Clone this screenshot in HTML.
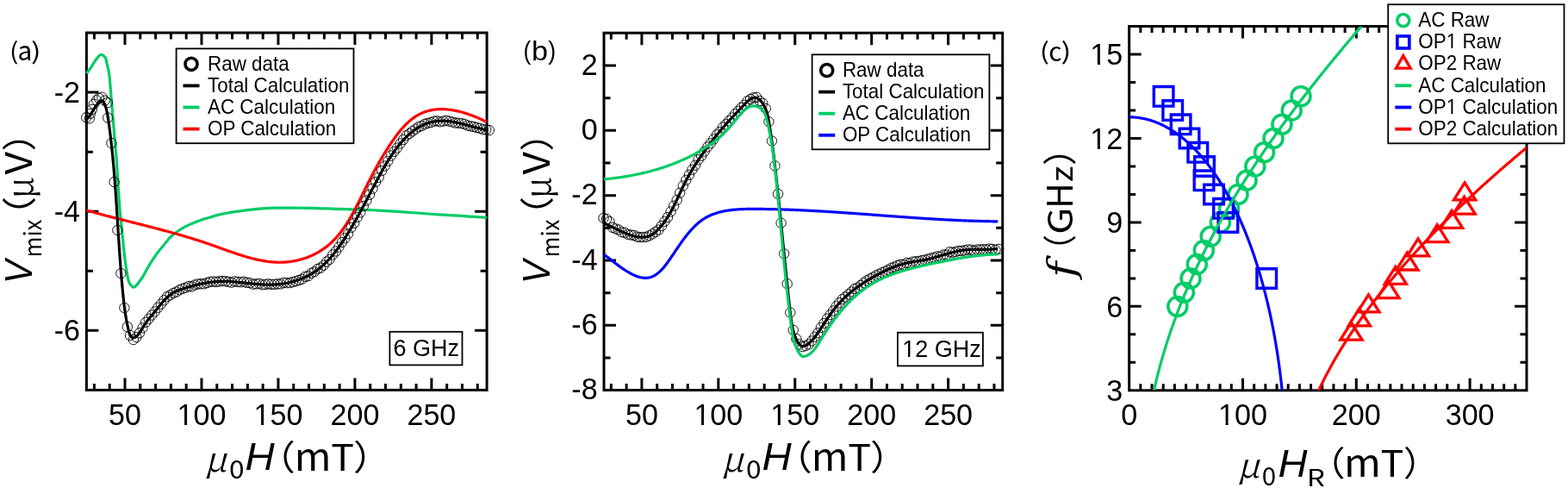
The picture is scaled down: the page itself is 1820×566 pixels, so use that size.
<!DOCTYPE html>
<html><head><meta charset="utf-8"><title>Figure</title>
<style>html,body{margin:0;padding:0;background:#fff;width:1820px;height:566px;overflow:hidden}svg{display:block}</style>
</head><body>
<svg width="1820" height="566" viewBox="0 0 1820 566">
<rect width="1820" height="566" fill="#fff"/>
<rect x="100.40" y="38.00" width="464.70" height="414.40" fill="none" stroke="#000" stroke-width="3"/>
<path d="M109.41,452.40V444.90M109.41,38.00V45.50M127.20,452.40V444.90M127.20,38.00V45.50M145.00,452.40V438.40M145.00,38.00V52.00M162.80,452.40V444.90M162.80,38.00V45.50M180.59,452.40V444.90M180.59,38.00V45.50M198.38,452.40V444.90M198.38,38.00V45.50M216.18,452.40V444.90M216.18,38.00V45.50M233.98,452.40V438.40M233.98,38.00V52.00M251.77,452.40V444.90M251.77,38.00V45.50M269.56,452.40V444.90M269.56,38.00V45.50M287.36,452.40V444.90M287.36,38.00V45.50M305.15,452.40V444.90M305.15,38.00V45.50M322.95,452.40V438.40M322.95,38.00V52.00M340.75,452.40V444.90M340.75,38.00V45.50M358.54,452.40V444.90M358.54,38.00V45.50M376.34,452.40V444.90M376.34,38.00V45.50M394.13,452.40V444.90M394.13,38.00V45.50M411.93,452.40V438.40M411.93,38.00V52.00M429.72,452.40V444.90M429.72,38.00V45.50M447.51,452.40V444.90M447.51,38.00V45.50M465.31,452.40V444.90M465.31,38.00V45.50M483.11,452.40V444.90M483.11,38.00V45.50M500.90,452.40V438.40M500.90,38.00V52.00M518.69,452.40V444.90M518.69,38.00V45.50M536.49,452.40V444.90M536.49,38.00V45.50M554.29,452.40V444.90M554.29,38.00V45.50M100.40,383.35H114.40M565.10,383.35H551.10M100.40,314.28H107.90M565.10,314.28H557.60M100.40,245.21H114.40M565.10,245.21H551.10M100.40,176.14H107.90M565.10,176.14H557.60M100.40,107.07H114.40M565.10,107.07H551.10" stroke="#000" stroke-width="3" fill="none"/>
<rect x="701.00" y="38.20" width="462.70" height="414.30" fill="none" stroke="#000" stroke-width="3"/>
<path d="M709.33,452.50V445.00M709.33,38.20V45.70M727.12,452.50V445.00M727.12,38.20V45.70M744.90,452.50V438.50M744.90,38.20V52.20M762.68,452.50V445.00M762.68,38.20V45.70M780.47,452.50V445.00M780.47,38.20V45.70M798.25,452.50V445.00M798.25,38.20V45.70M816.04,452.50V445.00M816.04,38.20V45.70M833.82,452.50V438.50M833.82,38.20V52.20M851.61,452.50V445.00M851.61,38.20V45.70M869.39,452.50V445.00M869.39,38.20V45.70M887.18,452.50V445.00M887.18,38.20V45.70M904.96,452.50V445.00M904.96,38.20V45.70M922.75,452.50V438.50M922.75,38.20V52.20M940.53,452.50V445.00M940.53,38.20V45.70M958.32,452.50V445.00M958.32,38.20V45.70M976.11,452.50V445.00M976.11,38.20V45.70M993.89,452.50V445.00M993.89,38.20V45.70M1011.67,452.50V438.50M1011.67,38.20V52.20M1029.46,452.50V445.00M1029.46,38.20V45.70M1047.24,452.50V445.00M1047.24,38.20V45.70M1065.03,452.50V445.00M1065.03,38.20V45.70M1082.82,452.50V445.00M1082.82,38.20V45.70M1100.60,452.50V438.50M1100.60,38.20V52.20M1118.38,452.50V445.00M1118.38,38.20V45.70M1136.17,452.50V445.00M1136.17,38.20V45.70M1153.95,452.50V445.00M1153.95,38.20V45.70M701.00,414.99H708.50M1163.70,414.99H1156.20M701.00,377.33H715.00M1163.70,377.33H1149.70M701.00,339.67H708.50M1163.70,339.67H1156.20M701.00,302.01H715.00M1163.70,302.01H1149.70M701.00,264.35H708.50M1163.70,264.35H1156.20M701.00,226.69H715.00M1163.70,226.69H1149.70M701.00,189.03H708.50M1163.70,189.03H1156.20M701.00,151.37H715.00M1163.70,151.37H1149.70M701.00,113.71H708.50M1163.70,113.71H1156.20M701.00,76.05H715.00M1163.70,76.05H1149.70" stroke="#000" stroke-width="3" fill="none"/>
<rect x="1310.65" y="30.50" width="461.35" height="422.30" fill="none" stroke="#000" stroke-width="3"/>
<path d="M1323.83,452.80V445.30M1323.83,30.50V38.00M1337.01,452.80V445.30M1337.01,30.50V38.00M1350.20,452.80V445.30M1350.20,30.50V38.00M1363.38,452.80V445.30M1363.38,30.50V38.00M1376.56,452.80V445.30M1376.56,30.50V38.00M1389.74,452.80V445.30M1389.74,30.50V38.00M1402.92,452.80V445.30M1402.92,30.50V38.00M1416.11,452.80V445.30M1416.11,30.50V38.00M1429.29,452.80V445.30M1429.29,30.50V38.00M1442.47,452.80V438.80M1442.47,30.50V44.50M1455.65,452.80V445.30M1455.65,30.50V38.00M1468.83,452.80V445.30M1468.83,30.50V38.00M1482.02,452.80V445.30M1482.02,30.50V38.00M1495.20,452.80V445.30M1495.20,30.50V38.00M1508.38,452.80V445.30M1508.38,30.50V38.00M1521.56,452.80V445.30M1521.56,30.50V38.00M1534.74,452.80V445.30M1534.74,30.50V38.00M1547.93,452.80V445.30M1547.93,30.50V38.00M1561.11,452.80V445.30M1561.11,30.50V38.00M1574.29,452.80V438.80M1574.29,30.50V44.50M1587.47,452.80V445.30M1587.47,30.50V38.00M1600.65,452.80V445.30M1600.65,30.50V38.00M1613.84,452.80V445.30M1613.84,30.50V38.00M1627.02,452.80V445.30M1627.02,30.50V38.00M1640.20,452.80V445.30M1640.20,30.50V38.00M1653.38,452.80V445.30M1653.38,30.50V38.00M1666.56,452.80V445.30M1666.56,30.50V38.00M1679.75,452.80V445.30M1679.75,30.50V38.00M1692.93,452.80V445.30M1692.93,30.50V38.00M1706.11,452.80V438.80M1706.11,30.50V44.50M1719.29,452.80V445.30M1719.29,30.50V38.00M1732.47,452.80V445.30M1732.47,30.50V38.00M1745.66,452.80V445.30M1745.66,30.50V38.00M1758.84,452.80V445.30M1758.84,30.50V38.00M1310.65,420.32H1318.15M1772.00,420.32H1764.50M1310.65,387.84H1318.15M1772.00,387.84H1764.50M1310.65,355.36H1324.65M1772.00,355.36H1758.00M1310.65,322.88H1318.15M1772.00,322.88H1764.50M1310.65,290.40H1318.15M1772.00,290.40H1764.50M1310.65,257.92H1324.65M1772.00,257.92H1758.00M1310.65,225.44H1318.15M1772.00,225.44H1764.50M1310.65,192.96H1318.15M1772.00,192.96H1764.50M1310.65,160.48H1324.65M1772.00,160.48H1758.00M1310.65,128.00H1318.15M1772.00,128.00H1764.50M1310.65,95.52H1318.15M1772.00,95.52H1764.50M1310.65,63.04H1324.65M1772.00,63.04H1758.00" stroke="#000" stroke-width="3" fill="none"/>
<g transform="translate(145.00,492.50) scale(0.960,1)"><text font-family='"Liberation Sans", sans-serif' font-size="35.50" text-anchor="middle">50</text></g>
<g transform="translate(744.90,492.50) scale(0.960,1)"><text font-family='"Liberation Sans", sans-serif' font-size="35.50" text-anchor="middle">50</text></g>
<g transform="translate(233.98,492.50) scale(0.960,1)"><text font-family='"Liberation Sans", sans-serif' font-size="35.50" text-anchor="middle" clip-path="url(#fc0)">100</text></g>
<g transform="translate(833.82,492.50) scale(0.960,1)"><text font-family='"Liberation Sans", sans-serif' font-size="35.50" text-anchor="middle" clip-path="url(#fc0)">100</text></g>
<g transform="translate(322.95,492.50) scale(0.960,1)"><text font-family='"Liberation Sans", sans-serif' font-size="35.50" text-anchor="middle" clip-path="url(#fc1)">150</text></g>
<g transform="translate(922.75,492.50) scale(0.960,1)"><text font-family='"Liberation Sans", sans-serif' font-size="35.50" text-anchor="middle" clip-path="url(#fc1)">150</text></g>
<g transform="translate(411.93,492.50) scale(0.960,1)"><text font-family='"Liberation Sans", sans-serif' font-size="35.50" text-anchor="middle">200</text></g>
<g transform="translate(1011.67,492.50) scale(0.960,1)"><text font-family='"Liberation Sans", sans-serif' font-size="35.50" text-anchor="middle">200</text></g>
<g transform="translate(500.90,492.50) scale(0.960,1)"><text font-family='"Liberation Sans", sans-serif' font-size="35.50" text-anchor="middle">250</text></g>
<g transform="translate(1100.60,492.50) scale(0.960,1)"><text font-family='"Liberation Sans", sans-serif' font-size="35.50" text-anchor="middle">250</text></g>
<g transform="translate(1310.65,492.50) scale(0.960,1)"><text font-family='"Liberation Sans", sans-serif' font-size="35.50" text-anchor="middle">0</text></g>
<g transform="translate(1442.47,492.50) scale(0.960,1)"><text font-family='"Liberation Sans", sans-serif' font-size="35.50" text-anchor="middle" clip-path="url(#fc0)">100</text></g>
<g transform="translate(1574.29,492.50) scale(0.960,1)"><text font-family='"Liberation Sans", sans-serif' font-size="35.50" text-anchor="middle">200</text></g>
<g transform="translate(1706.11,492.50) scale(0.960,1)"><text font-family='"Liberation Sans", sans-serif' font-size="35.50" text-anchor="middle">300</text></g>
<g transform="translate(93.00,118.57) scale(0.960,1)"><text font-family='"Liberation Sans", sans-serif' font-size="35.50" text-anchor="end">-2</text></g>
<g transform="translate(93.00,256.71) scale(0.960,1)"><text font-family='"Liberation Sans", sans-serif' font-size="35.50" text-anchor="end">-4</text></g>
<g transform="translate(93.00,394.85) scale(0.960,1)"><text font-family='"Liberation Sans", sans-serif' font-size="35.50" text-anchor="end">-6</text></g>
<g transform="translate(693.60,86.55) scale(0.960,1)"><text font-family='"Liberation Sans", sans-serif' font-size="35.50" text-anchor="end">2</text></g>
<g transform="translate(693.60,161.87) scale(0.960,1)"><text font-family='"Liberation Sans", sans-serif' font-size="35.50" text-anchor="end">0</text></g>
<g transform="translate(693.60,237.19) scale(0.960,1)"><text font-family='"Liberation Sans", sans-serif' font-size="35.50" text-anchor="end">-2</text></g>
<g transform="translate(693.60,312.51) scale(0.960,1)"><text font-family='"Liberation Sans", sans-serif' font-size="35.50" text-anchor="end">-4</text></g>
<g transform="translate(693.60,387.83) scale(0.960,1)"><text font-family='"Liberation Sans", sans-serif' font-size="35.50" text-anchor="end">-6</text></g>
<g transform="translate(693.60,463.15) scale(0.960,1)"><text font-family='"Liberation Sans", sans-serif' font-size="35.50" text-anchor="end">-8</text></g>
<g transform="translate(1303.25,465.10) scale(0.960,1)"><text font-family='"Liberation Sans", sans-serif' font-size="35.50" text-anchor="end">3</text></g>
<g transform="translate(1303.25,367.66) scale(0.960,1)"><text font-family='"Liberation Sans", sans-serif' font-size="35.50" text-anchor="end">6</text></g>
<g transform="translate(1303.25,270.22) scale(0.960,1)"><text font-family='"Liberation Sans", sans-serif' font-size="35.50" text-anchor="end">9</text></g>
<g transform="translate(1303.25,172.78) scale(0.960,1)"><text font-family='"Liberation Sans", sans-serif' font-size="35.50" text-anchor="end" clip-path="url(#fc2)">12</text></g>
<g transform="translate(1303.25,75.34) scale(0.960,1)"><text font-family='"Liberation Sans", sans-serif' font-size="35.50" text-anchor="end" clip-path="url(#fc3)">15</text></g>
<text transform="translate(11.03,69.19) scale(1.1287,1)" font-family='"Noto Sans CJK JP", sans-serif' font-size="27.23">(</text>
<text transform="translate(20.51,70.33) scale(0.9463,1)" font-family='"Noto Sans CJK JP", sans-serif' font-size="31.58">a</text>
<text transform="translate(36.05,69.22) scale(1.2734,1)" font-family='"Noto Sans CJK JP", sans-serif' font-size="27.09">)</text>
<text transform="translate(607.62,68.55) scale(0.9014,1)" font-family='"Liberation Sans", sans-serif' font-size="29.30">(</text>
<text transform="translate(617.08,70.48) scale(1.0704,1)" font-family='"Liberation Sans", sans-serif' font-size="31.97">b</text>
<text transform="translate(636.13,68.55) scale(0.9187,1)" font-family='"Liberation Sans", sans-serif' font-size="29.30">)</text>
<text transform="translate(1206.81,69.37) scale(1.2139,1)" font-family='"Noto Sans CJK JP", sans-serif' font-size="27.33">(</text>
<text transform="translate(1217.22,70.54) scale(0.9731,1)" font-family='"Noto Sans CJK JP", sans-serif' font-size="30.35">c</text>
<text transform="translate(1231.40,69.40) scale(1.3055,1)" font-family='"Noto Sans CJK JP", sans-serif' font-size="27.19">)</text>
<text transform="translate(237.47,546.82) scale(1.0065,1)" font-family='"Noto Serif CJK JP", serif' font-style="italic" font-size="40.41">μ</text>
<text transform="translate(266.12,555.36) scale(1.0893,1)" font-family='"Noto Sans CJK JP", sans-serif' font-size="29.05">0</text>
<text transform="translate(284.38,545.10) scale(1.0780,1)" font-family='"Liberation Sans", sans-serif' font-style="italic" font-size="43.91">H</text>
<text transform="translate(298.97,544.89) scale(1.0952,1)" font-family='"Noto Sans CJK JP", sans-serif' font-size="40.11">（</text>
<text transform="translate(341.85,545.60) scale(1.0283,1)" font-family='"Noto Sans CJK JP", sans-serif' font-size="44.86">m</text>
<text transform="translate(384.36,545.60) scale(1.0694,1)" font-family='"Noto Sans CJK JP", sans-serif' font-size="41.90">T</text>
<text transform="translate(410.02,544.89) scale(1.0854,1)" font-family='"Noto Sans CJK JP", sans-serif' font-size="40.11">）</text>
<text transform="translate(837.47,546.82) scale(1.0065,1)" font-family='"Noto Serif CJK JP", serif' font-style="italic" font-size="40.41">μ</text>
<text transform="translate(866.12,555.36) scale(1.0893,1)" font-family='"Noto Sans CJK JP", sans-serif' font-size="29.05">0</text>
<text transform="translate(884.38,545.10) scale(1.0780,1)" font-family='"Liberation Sans", sans-serif' font-style="italic" font-size="43.91">H</text>
<text transform="translate(898.97,544.89) scale(1.0952,1)" font-family='"Noto Sans CJK JP", sans-serif' font-size="40.11">（</text>
<text transform="translate(941.85,545.60) scale(1.0283,1)" font-family='"Noto Sans CJK JP", sans-serif' font-size="44.86">m</text>
<text transform="translate(984.36,545.60) scale(1.0694,1)" font-family='"Noto Sans CJK JP", sans-serif' font-size="41.90">T</text>
<text transform="translate(1010.02,544.89) scale(1.0854,1)" font-family='"Noto Sans CJK JP", sans-serif' font-size="40.11">）</text>
<text transform="translate(1436.36,554.30) scale(1.0210,1)" font-family='"Noto Serif CJK JP", serif' font-style="italic" font-size="40.00">μ</text>
<text transform="translate(1464.63,562.96) scale(1.0136,1)" font-family='"Noto Sans CJK JP", sans-serif' font-size="29.05">0</text>
<text transform="translate(1483.49,552.80) scale(1.0679,1)" font-family='"Liberation Sans", sans-serif' font-style="italic" font-size="44.06">H</text>
<text transform="translate(1516.77,563.90) scale(1.2045,1)" font-family='"Noto Sans CJK JP", sans-serif' font-size="27.62">R</text>
<text transform="translate(1518.69,552.24) scale(1.0800,1)" font-family='"Noto Sans CJK JP", sans-serif' font-size="39.58">（</text>
<text transform="translate(1560.04,553.00) scale(1.0396,1)" font-family='"Noto Sans CJK JP", sans-serif' font-size="44.50">m</text>
<text transform="translate(1602.46,553.00) scale(1.0660,1)" font-family='"Noto Sans CJK JP", sans-serif' font-size="42.04">T</text>
<text transform="translate(1628.96,552.24) scale(1.0305,1)" font-family='"Noto Sans CJK JP", sans-serif' font-size="39.58">）</text>
<text transform="rotate(-90) translate(-175.58,36.80) scale(1.0392,1)" font-family='"Noto Sans CJK JP", sans-serif' font-size="40.00">）</text>
<text transform="rotate(-90) translate(-202.60,37.10) scale(1.0921,1)" font-family='"Noto Sans CJK JP", sans-serif' font-size="42.04">V</text>
<text transform="rotate(-90) translate(-230.52,38.38) scale(0.9782,1)" font-family='"Noto Serif CJK JP", serif' font-size="41.10">μ</text>
<text transform="rotate(-90) translate(-272.84,36.80) scale(1.1275,1)" font-family='"Noto Sans CJK JP", sans-serif' font-size="40.00">（</text>
<text transform="rotate(-90) translate(-298.53,47.70) scale(0.9377,1)" font-family='"Noto Sans CJK JP", sans-serif' font-size="27.61">mix</text>
<text transform="rotate(-90) translate(-328.89,36.90) scale(0.9289,1)" font-family='"Liberation Sans", sans-serif' font-style="italic" font-size="44.20">V</text>
<text transform="rotate(-90) translate(-175.58,637.80) scale(1.0392,1)" font-family='"Noto Sans CJK JP", sans-serif' font-size="40.00">）</text>
<text transform="rotate(-90) translate(-202.60,638.10) scale(1.0921,1)" font-family='"Noto Sans CJK JP", sans-serif' font-size="42.04">V</text>
<text transform="rotate(-90) translate(-230.52,639.38) scale(0.9782,1)" font-family='"Noto Serif CJK JP", serif' font-size="41.10">μ</text>
<text transform="rotate(-90) translate(-272.84,637.80) scale(1.1275,1)" font-family='"Noto Sans CJK JP", sans-serif' font-size="40.00">（</text>
<text transform="rotate(-90) translate(-298.53,648.70) scale(0.9377,1)" font-family='"Noto Sans CJK JP", sans-serif' font-size="27.61">mix</text>
<text transform="rotate(-90) translate(-328.89,637.90) scale(0.9289,1)" font-family='"Liberation Sans", sans-serif' font-style="italic" font-size="44.20">V</text>
<text transform="rotate(-90) translate(-191.92,1245.26) scale(1.0260,1)" font-family='"Noto Sans CJK JP", sans-serif' font-size="39.37">）</text>
<text transform="rotate(-90) translate(-211.18,1245.40) scale(1.1043,1)" font-family='"Noto Sans CJK JP", sans-serif' font-size="35.78">z</text>
<text transform="rotate(-90) translate(-241.76,1245.40) scale(1.0005,1)" font-family='"Noto Sans CJK JP", sans-serif' font-size="40.54">H</text>
<text transform="rotate(-90) translate(-271.81,1244.81) scale(1.1534,1)" font-family='"Noto Sans CJK JP", sans-serif' font-size="39.21">G</text>
<text transform="rotate(-90) translate(-309.29,1245.26) scale(0.9463,1)" font-family='"Noto Sans CJK JP", sans-serif' font-size="39.37">（</text>
<text transform="rotate(-90) translate(-321.82,1247.24) scale(1.1654,1)" font-family='"DejaVu Serif", serif' font-size="42.68">𝑓</text>
<defs><clipPath id="clipA"><rect x="100.40" y="38.00" width="464.70" height="414.40"/></clipPath><clipPath id="clipB"><rect x="701.00" y="38.20" width="462.70" height="414.30"/></clipPath><clipPath id="clipC"><rect x="1310.65" y="30.50" width="461.35" height="422.30"/></clipPath></defs>
<path d="M100.40,85.30 C101.37,83.97 104.72,79.47 106.20,77.30 C107.68,75.13 108.27,73.85 109.30,72.30 C110.33,70.75 111.48,69.23 112.40,68.00 C113.32,66.77 113.88,65.68 114.80,64.90 C115.72,64.12 116.87,63.20 117.90,63.30 C118.93,63.40 120.22,64.82 121.00,65.50 C121.78,66.18 122.13,66.27 122.60,67.40 C123.07,68.53 123.40,70.55 123.80,72.30 C124.20,74.05 124.58,76.05 125.00,77.90 C125.42,79.75 125.93,81.38 126.30,83.40 C126.67,85.42 126.68,84.48 127.20,90.00 C127.72,95.52 128.67,107.67 129.40,116.50 C130.13,125.33 130.85,134.17 131.60,143.00 C132.35,151.83 133.23,161.67 133.90,169.50 C134.57,177.33 135.12,183.10 135.60,190.00 C136.08,196.90 136.27,202.57 136.80,210.90 C137.33,219.23 138.22,232.70 138.80,240.00 C139.38,247.30 139.80,249.70 140.30,254.70 C140.80,259.70 141.13,263.33 141.80,270.00 C142.47,276.67 143.47,287.48 144.30,294.70 C145.13,301.92 145.98,308.13 146.80,313.30 C147.62,318.47 148.28,322.72 149.20,325.70 C150.12,328.68 151.27,329.97 152.30,331.20 C153.33,332.43 154.17,333.40 155.40,333.10 C156.63,332.80 157.95,331.47 159.70,329.40 C161.45,327.33 163.83,324.00 165.90,320.70 C167.97,317.40 170.03,313.10 172.10,309.60 C174.17,306.10 176.23,302.80 178.30,299.70 C180.37,296.60 182.43,293.68 184.50,291.00 C186.57,288.32 188.90,285.82 190.70,283.60 C192.50,281.38 193.65,279.57 195.30,277.70 C196.95,275.83 197.95,274.52 200.60,272.40 C203.25,270.28 207.67,267.12 211.20,265.00 C214.73,262.88 218.27,261.30 221.80,259.70 C225.33,258.10 228.87,256.63 232.40,255.40 C235.93,254.17 239.47,253.35 243.00,252.30 C246.53,251.25 249.93,250.00 253.60,249.10 C257.27,248.20 260.88,247.60 265.00,246.90 C269.12,246.20 273.88,245.52 278.30,244.90 C282.72,244.28 287.08,243.70 291.50,243.20 C295.92,242.70 300.38,242.23 304.80,241.90 C309.22,241.57 312.97,241.33 318.00,241.20 C323.03,241.07 327.67,241.08 335.00,241.10 C342.33,241.12 352.83,241.10 362.00,241.30 C371.17,241.50 380.33,241.97 390.00,242.30 C399.67,242.63 411.67,243.00 420.00,243.30 C428.33,243.60 431.37,243.63 440.00,244.10 C448.63,244.57 461.20,245.37 471.80,246.10 C482.40,246.83 493.00,247.78 503.60,248.50 C514.20,249.22 525.15,249.75 535.40,250.40 C545.65,251.05 560.15,252.07 565.10,252.40" fill="none" stroke="#00cc66" stroke-width="3.20" stroke-linejoin="round" stroke-linecap="butt"/>
<path d="M100.19,243.91 L101.13,244.17 L102.07,244.44 L103.01,244.70 L103.94,244.96 L104.88,245.22 L105.81,245.48 L106.75,245.73 L107.68,245.99 L108.61,246.25 L109.54,246.50 L110.47,246.75 L111.40,247.01 L112.33,247.26 L113.26,247.51 L114.19,247.76 L115.12,248.01 L116.05,248.25 L116.97,248.50 L117.90,248.75 L118.82,248.99 L119.75,249.24 L120.67,249.48 L121.59,249.72 L122.51,249.96 L123.44,250.21 L124.36,250.45 L125.28,250.69 L126.20,250.92 L127.12,251.16 L128.04,251.40 L128.95,251.64 L129.87,251.87 L130.79,252.11 L131.70,252.35 L132.62,252.58 L133.54,252.81 L134.45,253.05 L135.36,253.28 L136.28,253.51 L137.19,253.75 L138.10,253.98 L139.02,254.21 L139.93,254.44 L140.84,254.67 L141.75,254.90 L142.66,255.13 L143.57,255.36 L144.48,255.59 L145.39,255.82 L146.30,256.05 L147.20,256.28 L148.11,256.51 L149.02,256.73 L149.93,256.96 L150.83,257.19 L151.74,257.42 L152.64,257.64 L153.55,257.87 L154.45,258.10 L155.36,258.33 L156.26,258.55 L157.17,258.78 L158.07,259.01 L158.97,259.23 L159.88,259.46 L160.78,259.69 L161.68,259.92 L162.58,260.14 L163.49,260.37 L164.39,260.60 L165.29,260.83 L166.19,261.05 L167.09,261.28 L167.99,261.51 L168.89,261.74 L169.79,261.97 L170.69,262.20 L171.59,262.42 L172.49,262.65 L173.39,262.88 L174.29,263.11 L175.19,263.34 L176.08,263.58 L176.98,263.81 L177.88,264.04 L178.78,264.27 L179.68,264.50 L180.57,264.74 L181.47,264.97 L182.37,265.20 L183.27,265.44 L184.16,265.67 L185.06,265.91 L185.96,266.14 L186.85,266.38 L187.75,266.62 L188.65,266.86 L189.54,267.10 L190.44,267.34 L191.34,267.58 L192.23,267.82 L193.13,268.06 L194.03,268.30 L194.92,268.54 L195.82,268.79 L196.72,269.03 L197.61,269.28 L198.51,269.52 L199.40,269.77 L200.30,270.02 L201.20,270.27 L202.09,270.52 L202.99,270.77 L203.89,271.02 L204.78,271.27 L205.68,271.53 L206.58,271.78 L207.47,272.04 L208.37,272.30 L209.27,272.55 L210.16,272.81 L211.06,273.07 L211.96,273.34 L212.86,273.60 L213.75,273.86 L214.65,274.13 L215.55,274.39 L216.45,274.66 L217.34,274.93 L218.24,275.20 L219.14,275.47 L220.04,275.74 L220.94,276.02 L221.84,276.29 L222.74,276.57 L223.64,276.85 L224.54,277.13 L225.44,277.41 L226.34,277.69 L227.24,277.98 L228.14,278.26 L229.04,278.55 L229.94,278.84 L230.84,279.13 L231.74,279.42 L232.64,279.71 L233.55,280.01 L234.45,280.30 L235.35,280.60 L236.26,280.90 L237.16,281.20 L238.06,281.51 L238.97,281.81 L239.87,282.12 L240.78,282.43 L241.68,282.74 L242.59,283.05 L243.49,283.36 L244.40,283.68 L245.31,283.99 L246.21,284.31 L247.12,284.63 L248.03,284.95 L248.94,285.28 L249.85,285.60 L250.76,285.92 L251.67,286.25 L252.58,286.57 L253.49,286.90 L254.40,287.23 L255.31,287.55 L256.22,287.88 L257.13,288.21 L258.04,288.54 L258.95,288.86 L259.86,289.19 L260.78,289.52 L261.69,289.84 L262.60,290.17 L263.51,290.49 L264.43,290.82 L265.34,291.14 L266.25,291.46 L267.17,291.78 L268.08,292.10 L269.00,292.42 L269.91,292.73 L270.83,293.05 L271.74,293.36 L272.66,293.67 L273.57,293.98 L274.49,294.28 L275.41,294.59 L276.32,294.89 L277.24,295.19 L278.15,295.48 L279.07,295.77 L279.99,296.07 L280.90,296.35 L281.82,296.64 L282.74,296.92 L283.66,297.20 L284.57,297.47 L285.49,297.74 L286.41,298.01 L287.33,298.27 L288.24,298.53 L289.16,298.78 L290.08,299.03 L291.00,299.28 L291.92,299.52 L292.83,299.76 L293.75,299.99 L294.67,300.22 L295.59,300.44 L296.51,300.66 L297.43,300.87 L298.34,301.08 L299.26,301.28 L300.18,301.48 L301.10,301.67 L302.02,301.85 L302.94,302.03 L303.86,302.20 L304.78,302.37 L305.69,302.53 L306.61,302.68 L307.53,302.83 L308.45,302.97 L309.37,303.11 L310.29,303.24 L311.20,303.36 L312.12,303.47 L313.04,303.58 L313.96,303.68 L314.88,303.77 L315.80,303.85 L316.71,303.93 L317.63,304.00 L318.55,304.06 L319.47,304.11 L320.39,304.15 L321.30,304.19 L322.22,304.22 L323.14,304.24 L324.06,304.25 L324.97,304.25 L325.89,304.24 L326.81,304.23 L327.72,304.20 L328.64,304.17 L329.56,304.13 L330.47,304.07 L331.39,304.01 L332.30,303.94 L333.22,303.86 L334.13,303.77 L335.05,303.67 L335.96,303.56 L336.87,303.44 L337.78,303.31 L338.69,303.18 L339.60,303.03 L340.50,302.88 L341.41,302.71 L342.31,302.54 L343.21,302.36 L344.11,302.17 L345.01,301.97 L345.91,301.76 L346.80,301.54 L347.69,301.31 L348.58,301.08 L349.47,300.83 L350.35,300.58 L351.23,300.32 L352.11,300.04 L352.99,299.76 L353.86,299.47 L354.73,299.18 L355.59,298.87 L356.46,298.55 L357.32,298.23 L358.17,297.90 L359.02,297.55 L359.87,297.20 L360.72,296.84 L361.56,296.48 L362.39,296.10 L363.22,295.71 L364.05,295.32 L364.88,294.92 L365.69,294.51 L366.51,294.09 L367.32,293.66 L368.12,293.22 L368.92,292.78 L369.71,292.33 L370.50,291.86 L371.29,291.39 L372.07,290.92 L372.84,290.43 L373.61,289.93 L374.37,289.43 L375.12,288.92 L375.87,288.40 L376.62,287.87 L377.35,287.33 L378.09,286.79 L378.81,286.24 L379.53,285.68 L380.24,285.11 L380.94,284.53 L381.64,283.94 L382.33,283.35 L383.02,282.75 L383.70,282.14 L384.37,281.53 L385.04,280.90 L385.70,280.27 L386.35,279.63 L387.00,278.99 L387.64,278.33 L388.27,277.67 L388.90,277.01 L389.53,276.33 L390.14,275.65 L390.76,274.97 L391.36,274.28 L391.96,273.58 L392.56,272.87 L393.15,272.16 L393.74,271.44 L394.32,270.72 L394.89,269.99 L395.46,269.26 L396.03,268.52 L396.59,267.77 L397.15,267.02 L397.70,266.27 L398.25,265.51 L398.79,264.74 L399.33,263.97 L399.86,263.20 L400.39,262.42 L400.92,261.63 L401.44,260.85 L401.96,260.05 L402.47,259.26 L402.98,258.46 L403.49,257.65 L403.99,256.84 L404.49,256.03 L404.99,255.21 L405.48,254.40 L405.97,253.57 L406.45,252.75 L406.94,251.92 L407.42,251.09 L407.89,250.25 L408.37,249.42 L408.84,248.58 L409.31,247.73 L409.77,246.89 L410.24,246.04 L410.70,245.19 L411.16,244.34 L411.61,243.49 L412.07,242.63 L412.52,241.77 L412.97,240.91 L413.42,240.05 L413.86,239.19 L414.31,238.33 L414.75,237.46 L415.19,236.60 L415.63,235.73 L416.07,234.86 L416.51,233.99 L416.94,233.13 L417.38,232.26 L417.81,231.39 L418.24,230.52 L418.67,229.65 L419.10,228.78 L419.53,227.91 L419.96,227.04 L420.39,226.17 L420.81,225.30 L421.24,224.43 L421.67,223.56 L422.09,222.69 L422.52,221.82 L422.95,220.96 L423.37,220.09 L423.80,219.23 L424.22,218.36 L424.65,217.50 L425.08,216.64 L425.50,215.79 L425.93,214.93 L426.36,214.07 L426.78,213.22 L427.21,212.37 L427.64,211.52 L428.07,210.67 L428.50,209.82 L428.93,208.98 L429.36,208.13 L429.80,207.29 L430.23,206.45 L430.66,205.61 L431.10,204.77 L431.54,203.93 L431.97,203.09 L432.41,202.26 L432.85,201.43 L433.29,200.60 L433.73,199.77 L434.17,198.94 L434.62,198.11 L435.06,197.28 L435.51,196.46 L435.96,195.64 L436.41,194.81 L436.86,193.99 L437.31,193.17 L437.76,192.36 L438.22,191.54 L438.68,190.72 L439.13,189.91 L439.59,189.10 L440.06,188.29 L440.52,187.47 L440.99,186.67 L441.45,185.86 L441.92,185.05 L442.39,184.25 L442.87,183.44 L443.34,182.64 L443.82,181.84 L444.30,181.03 L444.78,180.23 L445.26,179.44 L445.75,178.64 L446.24,177.84 L446.73,177.05 L447.22,176.25 L447.72,175.46 L448.22,174.67 L448.72,173.88 L449.22,173.09 L449.73,172.30 L450.24,171.51 L450.75,170.72 L451.26,169.94 L451.78,169.15 L452.30,168.37 L452.82,167.58 L453.34,166.80 L453.87,166.02 L454.40,165.24 L454.94,164.46 L455.47,163.68 L456.01,162.91 L456.56,162.13 L457.10,161.36 L457.65,160.58 L458.21,159.81 L458.76,159.05 L459.33,158.28 L459.89,157.52 L460.46,156.76 L461.03,156.00 L461.61,155.25 L462.19,154.50 L462.77,153.76 L463.36,153.02 L463.95,152.29 L464.55,151.56 L465.15,150.84 L465.76,150.12 L466.37,149.41 L466.99,148.71 L467.61,148.01 L468.24,147.32 L468.87,146.63 L469.51,145.95 L470.15,145.29 L470.79,144.62 L471.45,143.97 L472.11,143.33 L472.77,142.69 L473.44,142.06 L474.11,141.45 L474.80,140.84 L475.48,140.24 L476.18,139.65 L476.87,139.08 L477.58,138.51 L478.29,137.96 L479.01,137.41 L479.74,136.88 L480.47,136.36 L481.21,135.85 L481.95,135.35 L482.70,134.87 L483.46,134.40 L484.23,133.94 L485.00,133.50 L485.78,133.07 L486.57,132.65 L487.36,132.25 L488.16,131.86 L488.97,131.48 L489.78,131.12 L490.60,130.77 L491.43,130.44 L492.27,130.12 L493.10,129.82 L493.95,129.52 L494.80,129.25 L495.66,128.98 L496.52,128.73 L497.39,128.50 L498.26,128.27 L499.14,128.07 L500.03,127.87 L500.91,127.69 L501.81,127.52 L502.71,127.37 L503.61,127.23 L504.52,127.11 L505.43,127.00 L506.34,126.90 L507.26,126.82 L508.19,126.75 L509.11,126.70 L510.04,126.66 L510.98,126.63 L511.91,126.62 L512.86,126.62 L513.80,126.63 L514.74,126.66 L515.69,126.70 L516.64,126.75 L517.59,126.81 L518.55,126.89 L519.50,126.97 L520.46,127.07 L521.42,127.18 L522.38,127.30 L523.34,127.43 L524.30,127.58 L525.26,127.73 L526.22,127.89 L527.18,128.06 L528.14,128.25 L529.10,128.44 L530.06,128.64 L531.02,128.85 L531.98,129.07 L532.93,129.30 L533.89,129.54 L534.84,129.78 L535.79,130.04 L536.74,130.30 L537.69,130.57 L538.64,130.84 L539.58,131.13 L540.52,131.42 L541.45,131.72 L542.39,132.02 L543.32,132.33 L544.24,132.65 L545.17,132.97 L546.09,133.30 L547.00,133.64 L547.91,133.98 L548.82,134.32 L549.72,134.67 L550.61,135.03 L551.50,135.39 L552.39,135.75 L553.27,136.12 L554.14,136.49 L555.01,136.87 L555.87,137.25 L556.72,137.63 L557.57,138.02 L558.41,138.40 L559.25,138.79 L560.08,139.19 L560.90,139.58 L561.71,139.98 L562.51,140.38 L563.31,140.78 L564.10,141.18 L564.88,141.59" fill="none" stroke="#ff0000" stroke-width="3.20" stroke-linejoin="round" stroke-linecap="butt"/>
<path d="M94.50,136.20a5.70,5.70 0 1,0 11.40,0a5.70,5.70 0 1,0 -11.40,0M98.00,137.40a5.70,5.70 0 1,0 11.40,0a5.70,5.70 0 1,0 -11.40,0M99.20,131.80a5.70,5.70 0 1,0 11.40,0a5.70,5.70 0 1,0 -11.40,0M101.10,127.00a5.70,5.70 0 1,0 11.40,0a5.70,5.70 0 1,0 -11.40,0M103.20,120.70a5.70,5.70 0 1,0 11.40,0a5.70,5.70 0 1,0 -11.40,0M106.40,116.30a5.70,5.70 0 1,0 11.40,0a5.70,5.70 0 1,0 -11.40,0M109.20,113.90a5.70,5.70 0 1,0 11.40,0a5.70,5.70 0 1,0 -11.40,0M112.80,112.70a5.70,5.70 0 1,0 11.40,0a5.70,5.70 0 1,0 -11.40,0M115.90,116.70a5.70,5.70 0 1,0 11.40,0a5.70,5.70 0 1,0 -11.40,0M119.10,119.10a5.70,5.70 0 1,0 11.40,0a5.70,5.70 0 1,0 -11.40,0M119.50,136.60a5.70,5.70 0 1,0 11.40,0a5.70,5.70 0 1,0 -11.40,0M123.70,166.00a5.70,5.70 0 1,0 11.40,0a5.70,5.70 0 1,0 -11.40,0M126.90,211.00a5.70,5.70 0 1,0 11.40,0a5.70,5.70 0 1,0 -11.40,0M130.70,267.00a5.70,5.70 0 1,0 11.40,0a5.70,5.70 0 1,0 -11.40,0M134.70,317.00a5.70,5.70 0 1,0 11.40,0a5.70,5.70 0 1,0 -11.40,0M138.70,357.00a5.70,5.70 0 1,0 11.40,0a5.70,5.70 0 1,0 -11.40,0M142.10,379.00a5.70,5.70 0 1,0 11.40,0a5.70,5.70 0 1,0 -11.40,0M145.30,389.00a5.70,5.70 0 1,0 11.40,0a5.70,5.70 0 1,0 -11.40,0M149.10,394.00a5.70,5.70 0 1,0 11.40,0a5.70,5.70 0 1,0 -11.40,0M152.70,391.03a5.70,5.70 0 1,0 11.40,0a5.70,5.70 0 1,0 -11.40,0M156.26,386.19a5.70,5.70 0 1,0 11.40,0a5.70,5.70 0 1,0 -11.40,0M159.82,380.34a5.70,5.70 0 1,0 11.40,0a5.70,5.70 0 1,0 -11.40,0M163.38,373.80a5.70,5.70 0 1,0 11.40,0a5.70,5.70 0 1,0 -11.40,0M166.94,369.84a5.70,5.70 0 1,0 11.40,0a5.70,5.70 0 1,0 -11.40,0M170.50,365.50a5.70,5.70 0 1,0 11.40,0a5.70,5.70 0 1,0 -11.40,0M174.06,361.41a5.70,5.70 0 1,0 11.40,0a5.70,5.70 0 1,0 -11.40,0M177.62,356.75a5.70,5.70 0 1,0 11.40,0a5.70,5.70 0 1,0 -11.40,0M181.18,352.62a5.70,5.70 0 1,0 11.40,0a5.70,5.70 0 1,0 -11.40,0M184.74,348.25a5.70,5.70 0 1,0 11.40,0a5.70,5.70 0 1,0 -11.40,0M188.30,344.20a5.70,5.70 0 1,0 11.40,0a5.70,5.70 0 1,0 -11.40,0M191.86,342.30a5.70,5.70 0 1,0 11.40,0a5.70,5.70 0 1,0 -11.40,0M195.42,339.97a5.70,5.70 0 1,0 11.40,0a5.70,5.70 0 1,0 -11.40,0M198.98,338.58a5.70,5.70 0 1,0 11.40,0a5.70,5.70 0 1,0 -11.40,0M202.54,336.30a5.70,5.70 0 1,0 11.40,0a5.70,5.70 0 1,0 -11.40,0M206.10,334.84a5.70,5.70 0 1,0 11.40,0a5.70,5.70 0 1,0 -11.40,0M209.66,333.68a5.70,5.70 0 1,0 11.40,0a5.70,5.70 0 1,0 -11.40,0M213.22,332.14a5.70,5.70 0 1,0 11.40,0a5.70,5.70 0 1,0 -11.40,0M216.78,332.42a5.70,5.70 0 1,0 11.40,0a5.70,5.70 0 1,0 -11.40,0M220.34,330.43a5.70,5.70 0 1,0 11.40,0a5.70,5.70 0 1,0 -11.40,0M223.90,329.51a5.70,5.70 0 1,0 11.40,0a5.70,5.70 0 1,0 -11.40,0M227.46,329.19a5.70,5.70 0 1,0 11.40,0a5.70,5.70 0 1,0 -11.40,0M231.02,329.31a5.70,5.70 0 1,0 11.40,0a5.70,5.70 0 1,0 -11.40,0M234.58,328.04a5.70,5.70 0 1,0 11.40,0a5.70,5.70 0 1,0 -11.40,0M238.14,326.87a5.70,5.70 0 1,0 11.40,0a5.70,5.70 0 1,0 -11.40,0M241.70,326.58a5.70,5.70 0 1,0 11.40,0a5.70,5.70 0 1,0 -11.40,0M245.26,326.93a5.70,5.70 0 1,0 11.40,0a5.70,5.70 0 1,0 -11.40,0M248.82,326.34a5.70,5.70 0 1,0 11.40,0a5.70,5.70 0 1,0 -11.40,0M252.38,325.96a5.70,5.70 0 1,0 11.40,0a5.70,5.70 0 1,0 -11.40,0M255.94,326.25a5.70,5.70 0 1,0 11.40,0a5.70,5.70 0 1,0 -11.40,0M259.50,326.86a5.70,5.70 0 1,0 11.40,0a5.70,5.70 0 1,0 -11.40,0M263.06,327.67a5.70,5.70 0 1,0 11.40,0a5.70,5.70 0 1,0 -11.40,0M266.62,326.32a5.70,5.70 0 1,0 11.40,0a5.70,5.70 0 1,0 -11.40,0M270.18,326.94a5.70,5.70 0 1,0 11.40,0a5.70,5.70 0 1,0 -11.40,0M273.74,327.20a5.70,5.70 0 1,0 11.40,0a5.70,5.70 0 1,0 -11.40,0M277.30,326.76a5.70,5.70 0 1,0 11.40,0a5.70,5.70 0 1,0 -11.40,0M280.86,327.89a5.70,5.70 0 1,0 11.40,0a5.70,5.70 0 1,0 -11.40,0M284.42,328.22a5.70,5.70 0 1,0 11.40,0a5.70,5.70 0 1,0 -11.40,0M287.98,329.66a5.70,5.70 0 1,0 11.40,0a5.70,5.70 0 1,0 -11.40,0M291.54,329.36a5.70,5.70 0 1,0 11.40,0a5.70,5.70 0 1,0 -11.40,0M295.10,328.91a5.70,5.70 0 1,0 11.40,0a5.70,5.70 0 1,0 -11.40,0M298.66,330.27a5.70,5.70 0 1,0 11.40,0a5.70,5.70 0 1,0 -11.40,0M302.22,329.93a5.70,5.70 0 1,0 11.40,0a5.70,5.70 0 1,0 -11.40,0M305.78,329.32a5.70,5.70 0 1,0 11.40,0a5.70,5.70 0 1,0 -11.40,0M309.34,329.87a5.70,5.70 0 1,0 11.40,0a5.70,5.70 0 1,0 -11.40,0M312.90,329.75a5.70,5.70 0 1,0 11.40,0a5.70,5.70 0 1,0 -11.40,0M316.46,329.36a5.70,5.70 0 1,0 11.40,0a5.70,5.70 0 1,0 -11.40,0M320.02,329.44a5.70,5.70 0 1,0 11.40,0a5.70,5.70 0 1,0 -11.40,0M323.58,327.80a5.70,5.70 0 1,0 11.40,0a5.70,5.70 0 1,0 -11.40,0M327.14,328.16a5.70,5.70 0 1,0 11.40,0a5.70,5.70 0 1,0 -11.40,0M330.70,328.04a5.70,5.70 0 1,0 11.40,0a5.70,5.70 0 1,0 -11.40,0M334.26,327.06a5.70,5.70 0 1,0 11.40,0a5.70,5.70 0 1,0 -11.40,0M337.82,326.14a5.70,5.70 0 1,0 11.40,0a5.70,5.70 0 1,0 -11.40,0M341.38,324.94a5.70,5.70 0 1,0 11.40,0a5.70,5.70 0 1,0 -11.40,0M344.94,323.75a5.70,5.70 0 1,0 11.40,0a5.70,5.70 0 1,0 -11.40,0M348.50,320.90a5.70,5.70 0 1,0 11.40,0a5.70,5.70 0 1,0 -11.40,0M352.06,320.13a5.70,5.70 0 1,0 11.40,0a5.70,5.70 0 1,0 -11.40,0M355.62,316.81a5.70,5.70 0 1,0 11.40,0a5.70,5.70 0 1,0 -11.40,0M359.18,315.22a5.70,5.70 0 1,0 11.40,0a5.70,5.70 0 1,0 -11.40,0M362.74,312.06a5.70,5.70 0 1,0 11.40,0a5.70,5.70 0 1,0 -11.40,0M366.30,310.75a5.70,5.70 0 1,0 11.40,0a5.70,5.70 0 1,0 -11.40,0M369.86,307.79a5.70,5.70 0 1,0 11.40,0a5.70,5.70 0 1,0 -11.40,0M373.42,303.59a5.70,5.70 0 1,0 11.40,0a5.70,5.70 0 1,0 -11.40,0M376.98,300.81a5.70,5.70 0 1,0 11.40,0a5.70,5.70 0 1,0 -11.40,0M380.54,295.47a5.70,5.70 0 1,0 11.40,0a5.70,5.70 0 1,0 -11.40,0M384.10,291.43a5.70,5.70 0 1,0 11.40,0a5.70,5.70 0 1,0 -11.40,0M387.66,286.63a5.70,5.70 0 1,0 11.40,0a5.70,5.70 0 1,0 -11.40,0M391.22,280.90a5.70,5.70 0 1,0 11.40,0a5.70,5.70 0 1,0 -11.40,0M394.78,276.22a5.70,5.70 0 1,0 11.40,0a5.70,5.70 0 1,0 -11.40,0M398.34,271.29a5.70,5.70 0 1,0 11.40,0a5.70,5.70 0 1,0 -11.40,0M401.90,263.90a5.70,5.70 0 1,0 11.40,0a5.70,5.70 0 1,0 -11.40,0M405.46,258.76a5.70,5.70 0 1,0 11.40,0a5.70,5.70 0 1,0 -11.40,0M409.02,251.93a5.70,5.70 0 1,0 11.40,0a5.70,5.70 0 1,0 -11.40,0M412.58,246.43a5.70,5.70 0 1,0 11.40,0a5.70,5.70 0 1,0 -11.40,0M416.14,239.18a5.70,5.70 0 1,0 11.40,0a5.70,5.70 0 1,0 -11.40,0M419.70,232.56a5.70,5.70 0 1,0 11.40,0a5.70,5.70 0 1,0 -11.40,0M423.26,225.76a5.70,5.70 0 1,0 11.40,0a5.70,5.70 0 1,0 -11.40,0M426.82,218.76a5.70,5.70 0 1,0 11.40,0a5.70,5.70 0 1,0 -11.40,0M430.38,211.16a5.70,5.70 0 1,0 11.40,0a5.70,5.70 0 1,0 -11.40,0M433.94,205.87a5.70,5.70 0 1,0 11.40,0a5.70,5.70 0 1,0 -11.40,0M437.50,197.98a5.70,5.70 0 1,0 11.40,0a5.70,5.70 0 1,0 -11.40,0M441.06,192.55a5.70,5.70 0 1,0 11.40,0a5.70,5.70 0 1,0 -11.40,0M444.62,186.83a5.70,5.70 0 1,0 11.40,0a5.70,5.70 0 1,0 -11.40,0M448.18,180.55a5.70,5.70 0 1,0 11.40,0a5.70,5.70 0 1,0 -11.40,0M451.74,175.86a5.70,5.70 0 1,0 11.40,0a5.70,5.70 0 1,0 -11.40,0M455.30,171.57a5.70,5.70 0 1,0 11.40,0a5.70,5.70 0 1,0 -11.40,0M458.86,166.53a5.70,5.70 0 1,0 11.40,0a5.70,5.70 0 1,0 -11.40,0M462.42,162.02a5.70,5.70 0 1,0 11.40,0a5.70,5.70 0 1,0 -11.40,0M465.98,157.31a5.70,5.70 0 1,0 11.40,0a5.70,5.70 0 1,0 -11.40,0M469.54,154.97a5.70,5.70 0 1,0 11.40,0a5.70,5.70 0 1,0 -11.40,0M473.10,152.21a5.70,5.70 0 1,0 11.40,0a5.70,5.70 0 1,0 -11.40,0M476.66,149.66a5.70,5.70 0 1,0 11.40,0a5.70,5.70 0 1,0 -11.40,0M480.22,147.20a5.70,5.70 0 1,0 11.40,0a5.70,5.70 0 1,0 -11.40,0M483.78,145.96a5.70,5.70 0 1,0 11.40,0a5.70,5.70 0 1,0 -11.40,0M487.34,143.88a5.70,5.70 0 1,0 11.40,0a5.70,5.70 0 1,0 -11.40,0M490.90,142.80a5.70,5.70 0 1,0 11.40,0a5.70,5.70 0 1,0 -11.40,0M494.46,142.14a5.70,5.70 0 1,0 11.40,0a5.70,5.70 0 1,0 -11.40,0M498.02,140.58a5.70,5.70 0 1,0 11.40,0a5.70,5.70 0 1,0 -11.40,0M501.58,140.33a5.70,5.70 0 1,0 11.40,0a5.70,5.70 0 1,0 -11.40,0M505.14,141.28a5.70,5.70 0 1,0 11.40,0a5.70,5.70 0 1,0 -11.40,0M508.70,140.61a5.70,5.70 0 1,0 11.40,0a5.70,5.70 0 1,0 -11.40,0M512.26,139.71a5.70,5.70 0 1,0 11.40,0a5.70,5.70 0 1,0 -11.40,0M515.82,140.69a5.70,5.70 0 1,0 11.40,0a5.70,5.70 0 1,0 -11.40,0M519.38,141.54a5.70,5.70 0 1,0 11.40,0a5.70,5.70 0 1,0 -11.40,0M522.94,142.52a5.70,5.70 0 1,0 11.40,0a5.70,5.70 0 1,0 -11.40,0M526.50,142.72a5.70,5.70 0 1,0 11.40,0a5.70,5.70 0 1,0 -11.40,0M530.06,143.21a5.70,5.70 0 1,0 11.40,0a5.70,5.70 0 1,0 -11.40,0M533.62,144.00a5.70,5.70 0 1,0 11.40,0a5.70,5.70 0 1,0 -11.40,0M537.18,145.62a5.70,5.70 0 1,0 11.40,0a5.70,5.70 0 1,0 -11.40,0M540.74,146.41a5.70,5.70 0 1,0 11.40,0a5.70,5.70 0 1,0 -11.40,0M544.30,146.96a5.70,5.70 0 1,0 11.40,0a5.70,5.70 0 1,0 -11.40,0M547.86,148.06a5.70,5.70 0 1,0 11.40,0a5.70,5.70 0 1,0 -11.40,0M551.42,148.85a5.70,5.70 0 1,0 11.40,0a5.70,5.70 0 1,0 -11.40,0M554.98,150.27a5.70,5.70 0 1,0 11.40,0a5.70,5.70 0 1,0 -11.40,0M558.54,150.33a5.70,5.70 0 1,0 11.40,0a5.70,5.70 0 1,0 -11.40,0M562.10,151.08a5.70,5.70 0 1,0 11.40,0a5.70,5.70 0 1,0 -11.40,0" fill="none" stroke="#000" stroke-width="0.90"/>
<path d="M100.34,138.47 L101.39,137.39 L102.35,136.30 L103.25,135.22 L104.09,134.12 L104.89,133.02 L105.64,131.91 L106.38,130.79 L107.10,129.65 L107.81,128.49 L108.53,127.31 L109.27,126.11 L110.03,124.88 L110.84,123.63 L111.69,122.34 L112.60,121.03 L113.55,119.76 L114.52,118.62 L115.51,117.67 L116.48,116.99 L117.44,116.65 L118.34,116.74 L119.20,117.25 L120.00,118.11 L120.73,119.22 L121.38,120.51 L121.96,121.89 L122.46,123.30 L122.90,124.72 L123.29,126.16 L123.63,127.59 L123.96,129.01 L124.26,130.42 L124.54,131.83 L124.80,133.23 L125.05,134.62 L125.28,136.01 L125.50,137.40 L125.71,138.78 L125.91,140.17 L126.11,141.55 L126.30,142.93 L126.49,144.31 L126.68,145.70 L126.86,147.08 L127.05,148.47 L127.23,149.85 L127.41,151.24 L127.58,152.62 L127.76,154.01 L127.93,155.40 L128.10,156.79 L128.27,158.17 L128.43,159.56 L128.60,160.95 L128.76,162.34 L128.92,163.73 L129.08,165.12 L129.23,166.51 L129.38,167.90 L129.54,169.30 L129.69,170.69 L129.83,172.08 L129.98,173.47 L130.12,174.87 L130.27,176.26 L130.41,177.65 L130.55,179.05 L130.68,180.44 L130.82,181.84 L130.95,183.23 L131.08,184.63 L131.21,186.03 L131.34,187.42 L131.47,188.82 L131.60,190.22 L131.72,191.61 L131.85,193.01 L131.97,194.41 L132.09,195.81 L132.21,197.21 L132.33,198.61 L132.44,200.01 L132.56,201.40 L132.67,202.80 L132.78,204.20 L132.90,205.60 L133.01,207.01 L133.12,208.41 L133.22,209.81 L133.33,211.21 L133.44,212.61 L133.54,214.01 L133.65,215.41 L133.75,216.81 L133.85,218.22 L133.96,219.62 L134.06,221.02 L134.16,222.42 L134.26,223.83 L134.35,225.23 L134.45,226.63 L134.55,228.03 L134.65,229.44 L134.74,230.84 L134.84,232.24 L134.93,233.65 L135.03,235.05 L135.12,236.46 L135.21,237.86 L135.30,239.26 L135.40,240.67 L135.49,242.07 L135.58,243.48 L135.67,244.88 L135.76,246.28 L135.85,247.69 L135.94,249.09 L136.03,250.50 L136.12,251.90 L136.21,253.30 L136.30,254.71 L136.39,256.11 L136.48,257.52 L136.57,258.92 L136.66,260.32 L136.75,261.73 L136.84,263.13 L136.92,264.54 L137.01,265.94 L137.10,267.34 L137.19,268.75 L137.28,270.15 L137.37,271.56 L137.46,272.96 L137.55,274.36 L137.64,275.77 L137.74,277.17 L137.83,278.57 L137.92,279.97 L138.01,281.38 L138.10,282.78 L138.20,284.18 L138.29,285.58 L138.38,286.99 L138.48,288.39 L138.57,289.79 L138.67,291.19 L138.77,292.59 L138.86,293.99 L138.96,295.40 L139.06,296.80 L139.16,298.20 L139.26,299.60 L139.36,301.00 L139.46,302.40 L139.57,303.80 L139.67,305.20 L139.77,306.59 L139.88,307.99 L139.99,309.39 L140.09,310.79 L140.20,312.19 L140.31,313.59 L140.42,314.98 L140.54,316.38 L140.65,317.78 L140.76,319.17 L140.88,320.57 L141.00,321.97 L141.11,323.36 L141.23,324.76 L141.35,326.15 L141.48,327.54 L141.60,328.94 L141.73,330.33 L141.85,331.72 L141.98,333.12 L142.11,334.51 L142.24,335.90 L142.37,337.29 L142.51,338.68 L142.64,340.07 L142.78,341.46 L142.92,342.85 L143.06,344.24 L143.21,345.63 L143.35,347.02 L143.51,348.41 L143.66,349.80 L143.82,351.19 L143.98,352.58 L144.15,353.97 L144.32,355.37 L144.50,356.76 L144.68,358.15 L144.87,359.54 L145.07,360.94 L145.27,362.33 L145.48,363.73 L145.70,365.13 L145.92,366.53 L146.16,367.93 L146.40,369.33 L146.65,370.74 L146.90,372.14 L147.17,373.55 L147.45,374.96 L147.74,376.37 L148.03,377.79 L148.34,379.20 L148.66,380.62 L148.99,382.04 L149.33,383.46 L149.69,384.89 L150.06,386.31 L150.49,387.67 L151.01,388.91 L151.67,389.98 L152.51,390.81 L153.51,391.36 L154.59,391.62 L155.67,391.56 L156.74,391.22 L157.78,390.61 L158.80,389.79 L159.79,388.78 L160.75,387.63 L161.69,386.37 L162.59,385.03 L163.47,383.66 L164.31,382.29 L165.12,380.95 L165.90,379.67 L166.65,378.45 L167.39,377.28 L168.13,376.14 L168.87,375.04 L169.63,373.95 L170.40,372.88 L171.21,371.81 L172.03,370.74 L172.88,369.68 L173.74,368.62 L174.61,367.56 L175.50,366.50 L176.40,365.44 L177.30,364.37 L178.21,363.30 L179.12,362.22 L180.03,361.12 L180.94,360.02 L181.84,358.91 L182.74,357.79 L183.64,356.66 L184.54,355.53 L185.44,354.41 L186.35,353.29 L187.26,352.17 L188.19,351.07 L189.12,349.98 L190.06,348.91 L191.02,347.86 L191.99,346.84 L192.98,345.84 L193.98,344.87 L195.01,343.94 L196.06,343.04 L197.14,342.18 L198.24,341.37 L199.37,340.60 L200.52,339.88 L201.71,339.20 L202.92,338.57 L204.15,337.97 L205.40,337.41 L206.67,336.88 L207.96,336.37 L209.27,335.90 L210.59,335.44 L211.92,335.01 L213.26,334.58 L214.60,334.17 L215.96,333.77 L217.31,333.38 L218.67,332.99 L220.03,332.60 L221.40,332.22 L222.77,331.85 L224.14,331.48 L225.51,331.12 L226.89,330.77 L228.26,330.43 L229.64,330.10 L231.02,329.77 L232.41,329.46 L233.79,329.16 L235.18,328.87 L236.57,328.60 L237.95,328.33 L239.34,328.08 L240.74,327.85 L242.13,327.63 L243.52,327.42 L244.92,327.23 L246.31,327.06 L247.71,326.91 L249.10,326.77 L250.50,326.65 L251.89,326.55 L253.29,326.47 L254.69,326.41 L256.08,326.37 L257.48,326.35 L258.88,326.34 L260.27,326.35 L261.67,326.37 L263.07,326.40 L264.46,326.45 L265.86,326.52 L267.26,326.59 L268.65,326.67 L270.05,326.77 L271.45,326.87 L272.85,326.98 L274.24,327.10 L275.64,327.23 L277.04,327.36 L278.44,327.50 L279.84,327.64 L281.24,327.79 L282.63,327.93 L284.03,328.08 L285.43,328.23 L286.83,328.38 L288.23,328.53 L289.63,328.68 L291.03,328.83 L292.43,328.97 L293.83,329.11 L295.23,329.25 L296.63,329.38 L298.03,329.50 L299.44,329.61 L300.84,329.72 L302.24,329.82 L303.64,329.91 L305.04,329.99 L306.45,330.05 L307.85,330.11 L309.25,330.15 L310.66,330.18 L312.06,330.19 L313.47,330.19 L314.87,330.17 L316.28,330.14 L317.68,330.09 L319.09,330.02 L320.49,329.93 L321.90,329.82 L323.31,329.69 L324.71,329.54 L326.11,329.37 L327.51,329.19 L328.91,328.98 L330.31,328.75 L331.70,328.51 L333.09,328.25 L334.47,327.96 L335.85,327.66 L337.23,327.34 L338.60,326.99 L339.96,326.63 L341.32,326.25 L342.67,325.85 L344.01,325.43 L345.35,324.98 L346.68,324.52 L348.00,324.04 L349.31,323.54 L350.61,323.02 L351.90,322.48 L353.18,321.92 L354.46,321.34 L355.72,320.74 L356.96,320.12 L358.20,319.47 L359.43,318.81 L360.64,318.13 L361.84,317.43 L363.02,316.71 L364.20,315.97 L365.35,315.20 L366.50,314.42 L367.62,313.62 L368.74,312.80 L369.84,311.96 L370.93,311.10 L372.00,310.22 L373.07,309.33 L374.11,308.42 L375.15,307.49 L376.17,306.55 L377.19,305.59 L378.19,304.62 L379.17,303.63 L380.15,302.63 L381.12,301.62 L382.07,300.59 L383.02,299.55 L383.95,298.50 L384.87,297.43 L385.78,296.36 L386.69,295.27 L387.58,294.18 L388.46,293.07 L389.34,291.95 L390.20,290.83 L391.06,289.70 L391.91,288.55 L392.75,287.41 L393.58,286.25 L394.40,285.09 L395.22,283.92 L396.03,282.74 L396.83,281.56 L397.62,280.38 L398.41,279.19 L399.19,278.00 L399.97,276.80 L400.73,275.60 L401.50,274.40 L402.25,273.20 L403.00,271.99 L403.75,270.79 L404.49,269.58 L405.23,268.37 L405.96,267.16 L406.68,265.95 L407.41,264.74 L408.12,263.53 L408.84,262.32 L409.55,261.10 L410.25,259.89 L410.95,258.67 L411.65,257.45 L412.34,256.24 L413.03,255.02 L413.72,253.80 L414.40,252.58 L415.08,251.36 L415.76,250.14 L416.44,248.91 L417.11,247.69 L417.78,246.47 L418.44,245.24 L419.11,244.02 L419.77,242.79 L420.43,241.56 L421.09,240.33 L421.75,239.10 L422.40,237.88 L423.06,236.65 L423.71,235.41 L424.36,234.18 L425.01,232.95 L425.66,231.72 L426.31,230.48 L426.96,229.25 L427.61,228.01 L428.26,226.78 L428.91,225.54 L429.55,224.31 L430.20,223.07 L430.85,221.83 L431.50,220.59 L432.15,219.35 L432.79,218.11 L433.44,216.87 L434.10,215.63 L434.75,214.39 L435.40,213.15 L436.05,211.91 L436.71,210.67 L437.37,209.43 L438.03,208.18 L438.69,206.94 L439.35,205.70 L440.02,204.46 L440.69,203.22 L441.37,201.99 L442.04,200.75 L442.73,199.52 L443.41,198.29 L444.10,197.06 L444.80,195.83 L445.50,194.61 L446.20,193.39 L446.91,192.17 L447.63,190.96 L448.35,189.75 L449.08,188.54 L449.82,187.34 L450.56,186.14 L451.31,184.95 L452.06,183.76 L452.82,182.58 L453.60,181.40 L454.37,180.23 L455.16,179.06 L455.96,177.90 L456.76,176.75 L457.58,175.60 L458.40,174.46 L459.23,173.32 L460.07,172.20 L460.93,171.08 L461.79,169.97 L462.66,168.86 L463.55,167.77 L464.44,166.68 L465.35,165.60 L466.27,164.54 L467.20,163.48 L468.14,162.44 L469.09,161.41 L470.06,160.40 L471.04,159.40 L472.04,158.42 L473.05,157.45 L474.07,156.50 L475.11,155.57 L476.16,154.66 L477.23,153.76 L478.31,152.89 L479.40,152.04 L480.52,151.22 L481.65,150.41 L482.79,149.63 L483.95,148.88 L485.13,148.15 L486.33,147.45 L487.54,146.77 L488.77,146.12 L490.02,145.51 L491.29,144.92 L492.58,144.36 L493.88,143.84 L495.19,143.34 L496.51,142.88 L497.85,142.45 L499.20,142.06 L500.56,141.70 L501.92,141.38 L503.30,141.09 L504.67,140.84 L506.06,140.63 L507.44,140.46 L508.83,140.33 L510.22,140.23 L511.61,140.18 L513.00,140.16 L514.39,140.18 L515.79,140.22 L517.18,140.30 L518.57,140.41 L519.96,140.55 L521.34,140.71 L522.73,140.89 L524.11,141.10 L525.50,141.32 L526.88,141.57 L528.26,141.82 L529.63,142.10 L531.01,142.39 L532.38,142.69 L533.75,143.00 L535.11,143.32 L536.48,143.65 L537.85,143.99 L539.21,144.34 L540.57,144.69 L541.93,145.05 L543.30,145.41 L544.66,145.78 L546.02,146.14 L547.38,146.51 L548.73,146.88 L550.09,147.24 L551.45,147.60 L552.81,147.96 L554.17,148.32 L555.53,148.66 L556.89,149.01 L558.26,149.34 L559.62,149.66 L560.98,149.97 L562.35,150.28 L563.71,150.57 L565.08,150.84" fill="none" stroke="#000" stroke-width="3.20" stroke-linejoin="round" stroke-linecap="butt"/>
<path d="M694.80,253.00a5.70,5.70 0 1,0 11.40,0a5.70,5.70 0 1,0 -11.40,0M698.30,254.00a5.70,5.70 0 1,0 11.40,0a5.70,5.70 0 1,0 -11.40,0M701.80,257.00a5.70,5.70 0 1,0 11.40,0a5.70,5.70 0 1,0 -11.40,0M705.30,263.87a5.70,5.70 0 1,0 11.40,0a5.70,5.70 0 1,0 -11.40,0M708.86,265.42a5.70,5.70 0 1,0 11.40,0a5.70,5.70 0 1,0 -11.40,0M712.41,266.50a5.70,5.70 0 1,0 11.40,0a5.70,5.70 0 1,0 -11.40,0M715.97,269.27a5.70,5.70 0 1,0 11.40,0a5.70,5.70 0 1,0 -11.40,0M719.52,269.84a5.70,5.70 0 1,0 11.40,0a5.70,5.70 0 1,0 -11.40,0M723.08,271.82a5.70,5.70 0 1,0 11.40,0a5.70,5.70 0 1,0 -11.40,0M726.64,272.46a5.70,5.70 0 1,0 11.40,0a5.70,5.70 0 1,0 -11.40,0M730.19,272.95a5.70,5.70 0 1,0 11.40,0a5.70,5.70 0 1,0 -11.40,0M733.75,274.66a5.70,5.70 0 1,0 11.40,0a5.70,5.70 0 1,0 -11.40,0M737.30,275.12a5.70,5.70 0 1,0 11.40,0a5.70,5.70 0 1,0 -11.40,0M740.86,275.01a5.70,5.70 0 1,0 11.40,0a5.70,5.70 0 1,0 -11.40,0M744.42,274.80a5.70,5.70 0 1,0 11.40,0a5.70,5.70 0 1,0 -11.40,0M747.97,273.33a5.70,5.70 0 1,0 11.40,0a5.70,5.70 0 1,0 -11.40,0M751.53,271.44a5.70,5.70 0 1,0 11.40,0a5.70,5.70 0 1,0 -11.40,0M755.08,269.02a5.70,5.70 0 1,0 11.40,0a5.70,5.70 0 1,0 -11.40,0M758.64,266.62a5.70,5.70 0 1,0 11.40,0a5.70,5.70 0 1,0 -11.40,0M762.20,262.06a5.70,5.70 0 1,0 11.40,0a5.70,5.70 0 1,0 -11.40,0M765.75,256.77a5.70,5.70 0 1,0 11.40,0a5.70,5.70 0 1,0 -11.40,0M769.31,252.00a5.70,5.70 0 1,0 11.40,0a5.70,5.70 0 1,0 -11.40,0M772.86,245.45a5.70,5.70 0 1,0 11.40,0a5.70,5.70 0 1,0 -11.40,0M776.42,238.70a5.70,5.70 0 1,0 11.40,0a5.70,5.70 0 1,0 -11.40,0M779.98,232.03a5.70,5.70 0 1,0 11.40,0a5.70,5.70 0 1,0 -11.40,0M783.53,223.72a5.70,5.70 0 1,0 11.40,0a5.70,5.70 0 1,0 -11.40,0M787.09,215.60a5.70,5.70 0 1,0 11.40,0a5.70,5.70 0 1,0 -11.40,0M790.64,208.88a5.70,5.70 0 1,0 11.40,0a5.70,5.70 0 1,0 -11.40,0M794.20,202.85a5.70,5.70 0 1,0 11.40,0a5.70,5.70 0 1,0 -11.40,0M797.76,196.80a5.70,5.70 0 1,0 11.40,0a5.70,5.70 0 1,0 -11.40,0M801.31,191.65a5.70,5.70 0 1,0 11.40,0a5.70,5.70 0 1,0 -11.40,0M804.87,185.26a5.70,5.70 0 1,0 11.40,0a5.70,5.70 0 1,0 -11.40,0M808.42,180.79a5.70,5.70 0 1,0 11.40,0a5.70,5.70 0 1,0 -11.40,0M811.98,175.62a5.70,5.70 0 1,0 11.40,0a5.70,5.70 0 1,0 -11.40,0M815.54,170.46a5.70,5.70 0 1,0 11.40,0a5.70,5.70 0 1,0 -11.40,0M819.09,166.22a5.70,5.70 0 1,0 11.40,0a5.70,5.70 0 1,0 -11.40,0M822.65,161.46a5.70,5.70 0 1,0 11.40,0a5.70,5.70 0 1,0 -11.40,0M826.20,156.32a5.70,5.70 0 1,0 11.40,0a5.70,5.70 0 1,0 -11.40,0M829.76,152.96a5.70,5.70 0 1,0 11.40,0a5.70,5.70 0 1,0 -11.40,0M833.32,147.62a5.70,5.70 0 1,0 11.40,0a5.70,5.70 0 1,0 -11.40,0M836.87,144.20a5.70,5.70 0 1,0 11.40,0a5.70,5.70 0 1,0 -11.40,0M840.43,140.24a5.70,5.70 0 1,0 11.40,0a5.70,5.70 0 1,0 -11.40,0M843.98,136.61a5.70,5.70 0 1,0 11.40,0a5.70,5.70 0 1,0 -11.40,0M847.54,132.25a5.70,5.70 0 1,0 11.40,0a5.70,5.70 0 1,0 -11.40,0M851.10,128.82a5.70,5.70 0 1,0 11.40,0a5.70,5.70 0 1,0 -11.40,0M854.65,124.97a5.70,5.70 0 1,0 11.40,0a5.70,5.70 0 1,0 -11.40,0M858.21,121.74a5.70,5.70 0 1,0 11.40,0a5.70,5.70 0 1,0 -11.40,0M861.76,117.35a5.70,5.70 0 1,0 11.40,0a5.70,5.70 0 1,0 -11.40,0M865.32,115.01a5.70,5.70 0 1,0 11.40,0a5.70,5.70 0 1,0 -11.40,0M868.88,113.24a5.70,5.70 0 1,0 11.40,0a5.70,5.70 0 1,0 -11.40,0M872.43,112.84a5.70,5.70 0 1,0 11.40,0a5.70,5.70 0 1,0 -11.40,0M875.99,116.97a5.70,5.70 0 1,0 11.40,0a5.70,5.70 0 1,0 -11.40,0M879.54,119.78a5.70,5.70 0 1,0 11.40,0a5.70,5.70 0 1,0 -11.40,0M883.10,125.94a5.70,5.70 0 1,0 11.40,0a5.70,5.70 0 1,0 -11.40,0M886.66,141.17a5.70,5.70 0 1,0 11.40,0a5.70,5.70 0 1,0 -11.40,0M890.21,163.49a5.70,5.70 0 1,0 11.40,0a5.70,5.70 0 1,0 -11.40,0M893.77,192.35a5.70,5.70 0 1,0 11.40,0a5.70,5.70 0 1,0 -11.40,0M897.32,224.91a5.70,5.70 0 1,0 11.40,0a5.70,5.70 0 1,0 -11.40,0M900.88,258.69a5.70,5.70 0 1,0 11.40,0a5.70,5.70 0 1,0 -11.40,0M904.44,294.25a5.70,5.70 0 1,0 11.40,0a5.70,5.70 0 1,0 -11.40,0M907.99,329.12a5.70,5.70 0 1,0 11.40,0a5.70,5.70 0 1,0 -11.40,0M911.55,362.49a5.70,5.70 0 1,0 11.40,0a5.70,5.70 0 1,0 -11.40,0M915.10,382.81a5.70,5.70 0 1,0 11.40,0a5.70,5.70 0 1,0 -11.40,0M918.66,393.07a5.70,5.70 0 1,0 11.40,0a5.70,5.70 0 1,0 -11.40,0M922.22,399.40a5.70,5.70 0 1,0 11.40,0a5.70,5.70 0 1,0 -11.40,0M925.77,402.09a5.70,5.70 0 1,0 11.40,0a5.70,5.70 0 1,0 -11.40,0M929.33,401.15a5.70,5.70 0 1,0 11.40,0a5.70,5.70 0 1,0 -11.40,0M932.88,399.35a5.70,5.70 0 1,0 11.40,0a5.70,5.70 0 1,0 -11.40,0M936.44,395.49a5.70,5.70 0 1,0 11.40,0a5.70,5.70 0 1,0 -11.40,0M940.00,390.79a5.70,5.70 0 1,0 11.40,0a5.70,5.70 0 1,0 -11.40,0M943.55,386.18a5.70,5.70 0 1,0 11.40,0a5.70,5.70 0 1,0 -11.40,0M947.11,379.93a5.70,5.70 0 1,0 11.40,0a5.70,5.70 0 1,0 -11.40,0M950.66,375.03a5.70,5.70 0 1,0 11.40,0a5.70,5.70 0 1,0 -11.40,0M954.22,369.65a5.70,5.70 0 1,0 11.40,0a5.70,5.70 0 1,0 -11.40,0M957.78,365.15a5.70,5.70 0 1,0 11.40,0a5.70,5.70 0 1,0 -11.40,0M961.33,360.50a5.70,5.70 0 1,0 11.40,0a5.70,5.70 0 1,0 -11.40,0M964.89,355.41a5.70,5.70 0 1,0 11.40,0a5.70,5.70 0 1,0 -11.40,0M968.44,351.30a5.70,5.70 0 1,0 11.40,0a5.70,5.70 0 1,0 -11.40,0M972.00,347.09a5.70,5.70 0 1,0 11.40,0a5.70,5.70 0 1,0 -11.40,0M975.56,344.36a5.70,5.70 0 1,0 11.40,0a5.70,5.70 0 1,0 -11.40,0M979.11,341.36a5.70,5.70 0 1,0 11.40,0a5.70,5.70 0 1,0 -11.40,0M982.67,338.48a5.70,5.70 0 1,0 11.40,0a5.70,5.70 0 1,0 -11.40,0M986.22,335.07a5.70,5.70 0 1,0 11.40,0a5.70,5.70 0 1,0 -11.40,0M989.78,333.81a5.70,5.70 0 1,0 11.40,0a5.70,5.70 0 1,0 -11.40,0M993.34,330.92a5.70,5.70 0 1,0 11.40,0a5.70,5.70 0 1,0 -11.40,0M996.89,327.91a5.70,5.70 0 1,0 11.40,0a5.70,5.70 0 1,0 -11.40,0M1000.45,325.43a5.70,5.70 0 1,0 11.40,0a5.70,5.70 0 1,0 -11.40,0M1004.00,323.38a5.70,5.70 0 1,0 11.40,0a5.70,5.70 0 1,0 -11.40,0M1007.56,321.56a5.70,5.70 0 1,0 11.40,0a5.70,5.70 0 1,0 -11.40,0M1011.12,319.49a5.70,5.70 0 1,0 11.40,0a5.70,5.70 0 1,0 -11.40,0M1014.67,317.84a5.70,5.70 0 1,0 11.40,0a5.70,5.70 0 1,0 -11.40,0M1018.23,316.16a5.70,5.70 0 1,0 11.40,0a5.70,5.70 0 1,0 -11.40,0M1021.78,314.70a5.70,5.70 0 1,0 11.40,0a5.70,5.70 0 1,0 -11.40,0M1025.34,312.94a5.70,5.70 0 1,0 11.40,0a5.70,5.70 0 1,0 -11.40,0M1028.90,310.77a5.70,5.70 0 1,0 11.40,0a5.70,5.70 0 1,0 -11.40,0M1032.45,309.59a5.70,5.70 0 1,0 11.40,0a5.70,5.70 0 1,0 -11.40,0M1036.01,307.92a5.70,5.70 0 1,0 11.40,0a5.70,5.70 0 1,0 -11.40,0M1039.56,306.67a5.70,5.70 0 1,0 11.40,0a5.70,5.70 0 1,0 -11.40,0M1043.12,306.92a5.70,5.70 0 1,0 11.40,0a5.70,5.70 0 1,0 -11.40,0M1046.68,304.90a5.70,5.70 0 1,0 11.40,0a5.70,5.70 0 1,0 -11.40,0M1050.23,305.41a5.70,5.70 0 1,0 11.40,0a5.70,5.70 0 1,0 -11.40,0M1053.79,303.60a5.70,5.70 0 1,0 11.40,0a5.70,5.70 0 1,0 -11.40,0M1057.34,303.32a5.70,5.70 0 1,0 11.40,0a5.70,5.70 0 1,0 -11.40,0M1060.90,303.16a5.70,5.70 0 1,0 11.40,0a5.70,5.70 0 1,0 -11.40,0M1064.46,302.02a5.70,5.70 0 1,0 11.40,0a5.70,5.70 0 1,0 -11.40,0M1068.01,301.54a5.70,5.70 0 1,0 11.40,0a5.70,5.70 0 1,0 -11.40,0M1071.57,300.45a5.70,5.70 0 1,0 11.40,0a5.70,5.70 0 1,0 -11.40,0M1075.12,299.47a5.70,5.70 0 1,0 11.40,0a5.70,5.70 0 1,0 -11.40,0M1078.68,298.68a5.70,5.70 0 1,0 11.40,0a5.70,5.70 0 1,0 -11.40,0M1082.24,297.44a5.70,5.70 0 1,0 11.40,0a5.70,5.70 0 1,0 -11.40,0M1085.79,297.54a5.70,5.70 0 1,0 11.40,0a5.70,5.70 0 1,0 -11.40,0M1089.35,295.59a5.70,5.70 0 1,0 11.40,0a5.70,5.70 0 1,0 -11.40,0M1092.90,295.50a5.70,5.70 0 1,0 11.40,0a5.70,5.70 0 1,0 -11.40,0M1096.46,292.29a5.70,5.70 0 1,0 11.40,0a5.70,5.70 0 1,0 -11.40,0M1100.02,292.69a5.70,5.70 0 1,0 11.40,0a5.70,5.70 0 1,0 -11.40,0M1103.57,292.11a5.70,5.70 0 1,0 11.40,0a5.70,5.70 0 1,0 -11.40,0M1107.13,290.93a5.70,5.70 0 1,0 11.40,0a5.70,5.70 0 1,0 -11.40,0M1110.68,291.01a5.70,5.70 0 1,0 11.40,0a5.70,5.70 0 1,0 -11.40,0M1114.24,290.31a5.70,5.70 0 1,0 11.40,0a5.70,5.70 0 1,0 -11.40,0M1117.80,289.55a5.70,5.70 0 1,0 11.40,0a5.70,5.70 0 1,0 -11.40,0M1121.35,289.73a5.70,5.70 0 1,0 11.40,0a5.70,5.70 0 1,0 -11.40,0M1124.91,290.83a5.70,5.70 0 1,0 11.40,0a5.70,5.70 0 1,0 -11.40,0M1128.46,289.53a5.70,5.70 0 1,0 11.40,0a5.70,5.70 0 1,0 -11.40,0M1132.02,289.55a5.70,5.70 0 1,0 11.40,0a5.70,5.70 0 1,0 -11.40,0M1135.58,289.18a5.70,5.70 0 1,0 11.40,0a5.70,5.70 0 1,0 -11.40,0M1139.13,289.43a5.70,5.70 0 1,0 11.40,0a5.70,5.70 0 1,0 -11.40,0M1142.69,288.61a5.70,5.70 0 1,0 11.40,0a5.70,5.70 0 1,0 -11.40,0M1146.24,288.95a5.70,5.70 0 1,0 11.40,0a5.70,5.70 0 1,0 -11.40,0M1149.80,289.93a5.70,5.70 0 1,0 11.40,0a5.70,5.70 0 1,0 -11.40,0M1153.36,288.87a5.70,5.70 0 1,0 11.40,0a5.70,5.70 0 1,0 -11.40,0" fill="none" stroke="#000" stroke-width="0.90"/>
<path d="M701.06,259.14 L702.31,259.61 L703.56,260.11 L704.81,260.63 L706.06,261.16 L707.31,261.72 L708.56,262.29 L709.81,262.88 L711.06,263.47 L712.31,264.08 L713.56,264.69 L714.81,265.30 L716.07,265.92 L717.33,266.53 L718.59,267.15 L719.86,267.75 L721.13,268.35 L722.40,268.94 L723.69,269.51 L724.97,270.08 L726.27,270.62 L727.57,271.14 L728.87,271.64 L730.19,272.12 L731.51,272.57 L732.85,272.99 L734.19,273.38 L735.54,273.74 L736.90,274.06 L738.27,274.34 L739.65,274.58 L741.05,274.78 L742.45,274.93 L743.86,275.03 L745.26,275.07 L746.66,275.04 L748.05,274.95 L749.41,274.78 L750.75,274.54 L752.07,274.21 L753.35,273.78 L754.59,273.27 L755.79,272.66 L756.96,271.98 L758.09,271.23 L759.19,270.42 L760.26,269.56 L761.30,268.65 L762.32,267.70 L763.31,266.73 L764.28,265.73 L765.22,264.72 L766.15,263.70 L767.05,262.66 L767.94,261.60 L768.81,260.53 L769.66,259.45 L770.49,258.35 L771.30,257.24 L772.10,256.12 L772.88,254.99 L773.64,253.84 L774.40,252.69 L775.13,251.52 L775.86,250.35 L776.57,249.16 L777.27,247.97 L777.96,246.77 L778.63,245.56 L779.30,244.34 L779.96,243.12 L780.61,241.89 L781.25,240.65 L781.88,239.41 L782.51,238.16 L783.13,236.91 L783.74,235.65 L784.35,234.39 L784.95,233.13 L785.55,231.87 L786.15,230.60 L786.74,229.33 L787.34,228.06 L787.93,226.79 L788.52,225.52 L789.11,224.25 L789.70,222.98 L790.29,221.71 L790.89,220.44 L791.48,219.17 L792.08,217.91 L792.69,216.65 L793.29,215.39 L793.91,214.14 L794.53,212.89 L795.15,211.65 L795.78,210.41 L796.42,209.18 L797.07,207.96 L797.72,206.74 L798.38,205.52 L799.05,204.31 L799.73,203.11 L800.41,201.91 L801.10,200.71 L801.79,199.52 L802.49,198.34 L803.20,197.16 L803.92,195.98 L804.64,194.80 L805.37,193.63 L806.10,192.47 L806.84,191.31 L807.58,190.15 L808.33,188.99 L809.09,187.84 L809.85,186.69 L810.62,185.54 L811.39,184.39 L812.17,183.25 L812.95,182.11 L813.74,180.97 L814.54,179.83 L815.33,178.70 L816.14,177.56 L816.95,176.43 L817.76,175.30 L818.57,174.17 L819.40,173.04 L820.22,171.91 L821.05,170.79 L821.88,169.67 L822.72,168.54 L823.56,167.43 L824.41,166.31 L825.26,165.20 L826.11,164.09 L826.96,162.98 L827.82,161.88 L828.68,160.78 L829.55,159.69 L830.42,158.60 L831.29,157.52 L832.16,156.44 L833.03,155.36 L833.91,154.29 L834.79,153.23 L835.67,152.17 L836.56,151.11 L837.44,150.07 L838.33,149.03 L839.22,147.99 L840.11,146.96 L841.01,145.94 L841.90,144.93 L842.79,143.92 L843.69,142.92 L844.59,141.93 L845.50,140.93 L846.40,139.94 L847.31,138.95 L848.23,137.96 L849.15,136.97 L850.08,135.98 L851.01,134.98 L851.96,133.98 L852.91,132.97 L853.87,131.95 L854.84,130.92 L855.81,129.88 L856.80,128.83 L857.80,127.76 L858.82,126.68 L859.84,125.59 L860.88,124.48 L861.93,123.35 L863.00,122.21 L864.07,121.07 L865.16,119.96 L866.25,118.89 L867.34,117.86 L868.44,116.90 L869.54,116.01 L870.64,115.22 L871.74,114.54 L872.83,113.98 L873.92,113.55 L875.00,113.28 L876.07,113.17 L877.13,113.24 L878.17,113.50 L879.19,113.92 L880.20,114.49 L881.17,115.20 L882.12,116.03 L883.03,116.97 L883.91,117.99 L884.74,119.09 L885.53,120.25 L886.27,121.45 L886.96,122.68 L887.60,123.94 L888.18,125.21 L888.73,126.50 L889.22,127.80 L889.68,129.12 L890.10,130.46 L890.49,131.81 L890.85,133.17 L891.18,134.54 L891.49,135.91 L891.77,137.30 L892.04,138.69 L892.29,140.09 L892.53,141.48 L892.76,142.88 L892.99,144.28 L893.21,145.68 L893.43,147.08 L893.64,148.48 L893.86,149.88 L894.07,151.27 L894.28,152.66 L894.49,154.06 L894.69,155.45 L894.90,156.84 L895.10,158.23 L895.29,159.62 L895.49,161.01 L895.69,162.39 L895.88,163.78 L896.07,165.16 L896.26,166.55 L896.44,167.93 L896.63,169.32 L896.81,170.70 L896.99,172.08 L897.17,173.46 L897.35,174.84 L897.53,176.22 L897.70,177.60 L897.88,178.98 L898.05,180.35 L898.22,181.73 L898.39,183.11 L898.55,184.48 L898.72,185.86 L898.89,187.23 L899.05,188.61 L899.21,189.98 L899.37,191.36 L899.53,192.73 L899.69,194.10 L899.85,195.48 L900.01,196.85 L900.16,198.22 L900.32,199.59 L900.47,200.96 L900.63,202.34 L900.78,203.71 L900.93,205.08 L901.08,206.45 L901.23,207.82 L901.38,209.19 L901.53,210.56 L901.68,211.93 L901.83,213.31 L901.98,214.68 L902.13,216.05 L902.27,217.42 L902.42,218.79 L902.57,220.16 L902.71,221.53 L902.86,222.90 L903.00,224.27 L903.15,225.65 L903.29,227.02 L903.44,228.39 L903.58,229.76 L903.72,231.13 L903.87,232.50 L904.01,233.88 L904.15,235.25 L904.29,236.62 L904.44,237.99 L904.58,239.36 L904.72,240.74 L904.86,242.11 L905.00,243.48 L905.14,244.85 L905.28,246.23 L905.42,247.60 L905.56,248.97 L905.70,250.35 L905.84,251.72 L905.98,253.09 L906.12,254.47 L906.26,255.84 L906.40,257.22 L906.54,258.59 L906.68,259.96 L906.81,261.34 L906.95,262.71 L907.09,264.09 L907.23,265.46 L907.37,266.84 L907.51,268.21 L907.64,269.59 L907.78,270.96 L907.92,272.34 L908.06,273.72 L908.20,275.09 L908.33,276.47 L908.47,277.85 L908.61,279.22 L908.75,280.60 L908.89,281.98 L909.02,283.35 L909.16,284.73 L909.30,286.11 L909.44,287.49 L909.57,288.87 L909.71,290.25 L909.85,291.63 L909.99,293.00 L910.13,294.38 L910.27,295.76 L910.41,297.14 L910.54,298.52 L910.68,299.90 L910.82,301.29 L910.96,302.67 L911.10,304.05 L911.24,305.43 L911.38,306.81 L911.52,308.19 L911.66,309.58 L911.80,310.96 L911.94,312.34 L912.08,313.72 L912.22,315.11 L912.36,316.49 L912.51,317.88 L912.65,319.26 L912.79,320.65 L912.93,322.03 L913.07,323.42 L913.22,324.80 L913.36,326.19 L913.50,327.58 L913.65,328.96 L913.79,330.35 L913.94,331.74 L914.08,333.13 L914.23,334.51 L914.37,335.90 L914.52,337.29 L914.67,338.68 L914.81,340.07 L914.96,341.46 L915.11,342.85 L915.26,344.24 L915.40,345.63 L915.55,347.03 L915.70,348.42 L915.85,349.81 L916.00,351.20 L916.15,352.60 L916.31,353.99 L916.46,355.38 L916.61,356.78 L916.76,358.17 L916.92,359.57 L917.07,360.97 L917.23,362.36 L917.38,363.76 L917.55,365.15 L917.71,366.55 L917.89,367.94 L918.07,369.33 L918.26,370.72 L918.47,372.11 L918.68,373.50 L918.91,374.88 L919.16,376.26 L919.42,377.64 L919.70,379.01 L920.00,380.38 L920.32,381.74 L920.66,383.10 L921.03,384.45 L921.42,385.80 L921.84,387.14 L922.29,388.47 L922.76,389.80 L923.27,391.12 L923.81,392.44 L924.38,393.74 L924.99,395.00 L925.63,396.22 L926.31,397.36 L927.03,398.40 L927.79,399.34 L928.59,400.14 L929.44,400.79 L930.32,401.26 L931.25,401.54 L932.23,401.60 L933.25,401.47 L934.30,401.15 L935.37,400.67 L936.45,400.04 L937.55,399.29 L938.64,398.44 L939.72,397.51 L940.79,396.52 L941.82,395.48 L942.83,394.41 L943.80,393.32 L944.75,392.21 L945.67,391.08 L946.57,389.93 L947.44,388.77 L948.30,387.60 L949.13,386.41 L949.96,385.22 L950.77,384.02 L951.57,382.82 L952.36,381.62 L953.15,380.43 L953.93,379.23 L954.71,378.04 L955.48,376.85 L956.26,375.67 L957.04,374.49 L957.81,373.32 L958.59,372.15 L959.36,370.99 L960.14,369.84 L960.92,368.69 L961.71,367.55 L962.50,366.41 L963.29,365.28 L964.09,364.16 L964.89,363.05 L965.70,361.94 L966.52,360.85 L967.35,359.76 L968.18,358.68 L969.03,357.61 L969.88,356.55 L970.75,355.49 L971.63,354.45 L972.52,353.42 L973.42,352.40 L974.34,351.39 L975.26,350.39 L976.20,349.40 L977.16,348.41 L978.12,347.44 L979.09,346.48 L980.08,345.53 L981.08,344.59 L982.09,343.66 L983.10,342.74 L984.13,341.83 L985.17,340.92 L986.22,340.03 L987.28,339.15 L988.35,338.27 L989.42,337.41 L990.51,336.55 L991.60,335.70 L992.71,334.86 L993.82,334.04 L994.93,333.21 L996.06,332.40 L997.19,331.60 L998.34,330.81 L999.48,330.02 L1000.64,329.24 L1001.80,328.47 L1002.97,327.71 L1004.14,326.96 L1005.32,326.21 L1006.50,325.48 L1007.69,324.75 L1008.89,324.03 L1010.09,323.32 L1011.29,322.61 L1012.50,321.91 L1013.71,321.23 L1014.93,320.54 L1016.15,319.87 L1017.37,319.20 L1018.59,318.54 L1019.82,317.89 L1021.06,317.24 L1022.29,316.61 L1023.53,315.97 L1024.76,315.35 L1026.01,314.74 L1027.25,314.13 L1028.50,313.54 L1029.75,312.96 L1031.01,312.38 L1032.27,311.82 L1033.53,311.27 L1034.80,310.74 L1036.07,310.22 L1037.35,309.71 L1038.63,309.22 L1039.92,308.74 L1041.22,308.28 L1042.51,307.84 L1043.82,307.41 L1045.13,307.00 L1046.45,306.61 L1047.77,306.25 L1049.11,305.90 L1050.44,305.57 L1051.79,305.26 L1053.14,304.96 L1054.50,304.69 L1055.86,304.42 L1057.22,304.17 L1058.59,303.93 L1059.97,303.70 L1061.34,303.47 L1062.72,303.25 L1064.09,303.02 L1065.47,302.80 L1066.85,302.57 L1068.22,302.34 L1069.60,302.11 L1070.97,301.86 L1072.34,301.61 L1073.70,301.34 L1075.06,301.06 L1076.42,300.77 L1077.77,300.46 L1079.12,300.13 L1080.47,299.80 L1081.81,299.46 L1083.15,299.10 L1084.48,298.74 L1085.82,298.37 L1087.15,297.99 L1088.48,297.61 L1089.81,297.22 L1091.14,296.83 L1092.46,296.44 L1093.79,296.05 L1095.11,295.66 L1096.44,295.27 L1097.77,294.88 L1099.09,294.49 L1100.42,294.11 L1101.75,293.74 L1103.08,293.38 L1104.41,293.02 L1105.75,292.68 L1107.08,292.34 L1108.42,292.02 L1109.76,291.72 L1111.11,291.42 L1112.46,291.15 L1113.81,290.89 L1115.16,290.66 L1116.52,290.44 L1117.88,290.24 L1119.25,290.07 L1120.62,289.92 L1122.00,289.80 L1123.38,289.69 L1124.76,289.61 L1126.15,289.54 L1127.54,289.49 L1128.93,289.45 L1130.32,289.43 L1131.72,289.41 L1133.12,289.40 L1134.52,289.40 L1135.92,289.40 L1137.32,289.40 L1138.72,289.40 L1140.12,289.40 L1141.51,289.40 L1142.91,289.39 L1144.31,289.37 L1145.70,289.35 L1147.09,289.31 L1148.48,289.26 L1149.86,289.19 L1151.25,289.10 L1152.62,289.00 L1154.00,288.87 L1155.37,288.72 L1156.73,288.54 L1158.09,288.34" fill="none" stroke="#000" stroke-width="3.20" stroke-linejoin="round" stroke-linecap="butt"/>
<path d="M701.04,295.31 L701.56,295.66 L702.10,296.04 L702.65,296.43 L703.21,296.84 L703.78,297.26 L704.37,297.70 L704.97,298.15 L705.58,298.62 L706.21,299.09 L706.84,299.58 L707.48,300.07 L708.14,300.58 L708.81,301.09 L709.48,301.62 L710.17,302.15 L710.86,302.69 L711.56,303.23 L712.27,303.78 L712.99,304.33 L713.72,304.89 L714.45,305.45 L715.19,306.01 L715.94,306.58 L716.70,307.14 L717.46,307.71 L718.22,308.27 L718.99,308.84 L719.77,309.40 L720.55,309.96 L721.34,310.51 L722.13,311.07 L722.92,311.61 L723.72,312.15 L724.51,312.69 L725.32,313.22 L726.12,313.73 L726.93,314.25 L727.73,314.75 L728.54,315.24 L729.35,315.72 L730.16,316.19 L730.97,316.64 L731.78,317.09 L732.59,317.52 L733.40,317.93 L734.21,318.33 L735.02,318.72 L735.82,319.09 L736.62,319.44 L737.42,319.77 L738.22,320.08 L739.01,320.38 L739.80,320.65 L740.59,320.91 L741.37,321.15 L742.15,321.36 L742.92,321.56 L743.69,321.74 L744.46,321.89 L745.22,322.02 L745.97,322.14 L746.72,322.23 L747.46,322.30 L748.19,322.34 L748.92,322.36 L749.64,322.37 L750.35,322.34 L751.06,322.30 L751.76,322.22 L752.45,322.13 L753.13,322.01 L753.80,321.87 L754.47,321.71 L755.13,321.52 L755.78,321.31 L756.43,321.08 L757.06,320.84 L757.70,320.56 L758.32,320.27 L758.94,319.96 L759.55,319.64 L760.16,319.29 L760.76,318.92 L761.35,318.54 L761.94,318.14 L762.52,317.72 L763.10,317.29 L763.67,316.84 L764.24,316.37 L764.80,315.89 L765.36,315.40 L765.91,314.89 L766.46,314.37 L767.01,313.83 L767.55,313.28 L768.08,312.72 L768.62,312.15 L769.15,311.57 L769.67,310.97 L770.19,310.36 L770.71,309.75 L771.23,309.12 L771.74,308.49 L772.25,307.84 L772.76,307.19 L773.27,306.53 L773.77,305.87 L774.28,305.19 L774.78,304.51 L775.27,303.82 L775.77,303.13 L776.27,302.43 L776.76,301.73 L777.26,301.03 L777.75,300.32 L778.24,299.60 L778.73,298.89 L779.22,298.17 L779.71,297.44 L780.20,296.72 L780.69,296.00 L781.18,295.27 L781.67,294.55 L782.16,293.82 L782.66,293.09 L783.15,292.36 L783.64,291.63 L784.13,290.90 L784.62,290.17 L785.12,289.44 L785.61,288.71 L786.11,287.98 L786.60,287.25 L787.10,286.53 L787.60,285.80 L788.10,285.08 L788.60,284.35 L789.10,283.63 L789.61,282.91 L790.11,282.19 L790.62,281.47 L791.13,280.76 L791.64,280.05 L792.15,279.34 L792.66,278.63 L793.18,277.93 L793.69,277.22 L794.21,276.53 L794.74,275.83 L795.26,275.14 L795.79,274.46 L796.32,273.77 L796.85,273.10 L797.38,272.42 L797.92,271.75 L798.46,271.09 L799.00,270.43 L799.55,269.77 L800.10,269.12 L800.65,268.48 L801.20,267.84 L801.76,267.21 L802.32,266.58 L802.89,265.96 L803.46,265.35 L804.03,264.74 L804.61,264.14 L805.19,263.54 L805.77,262.95 L806.36,262.37 L806.95,261.80 L807.54,261.24 L808.14,260.68 L808.75,260.13 L809.35,259.59 L809.97,259.05 L810.58,258.53 L811.21,258.01 L811.83,257.50 L812.46,257.00 L813.10,256.51 L813.74,256.03 L814.38,255.56 L815.03,255.10 L815.69,254.65 L816.35,254.21 L817.02,253.78 L817.69,253.36 L818.37,252.95 L819.05,252.55 L819.74,252.15 L820.43,251.77 L821.13,251.40 L821.83,251.04 L822.54,250.69 L823.25,250.35 L823.96,250.02 L824.69,249.69 L825.41,249.38 L826.14,249.07 L826.88,248.78 L827.62,248.49 L828.36,248.21 L829.11,247.94 L829.86,247.68 L830.62,247.42 L831.38,247.18 L832.14,246.94 L832.91,246.71 L833.68,246.48 L834.46,246.27 L835.24,246.06 L836.02,245.86 L836.80,245.67 L837.59,245.48 L838.39,245.30 L839.18,245.13 L839.98,244.96 L840.78,244.80 L841.59,244.65 L842.40,244.50 L843.21,244.36 L844.02,244.23 L844.84,244.10 L845.65,243.98 L846.48,243.86 L847.30,243.75 L848.13,243.65 L848.95,243.54 L849.79,243.45 L850.62,243.36 L851.45,243.27 L852.29,243.19 L853.13,243.12 L853.97,243.05 L854.81,242.98 L855.66,242.92 L856.50,242.86 L857.35,242.80 L858.20,242.75 L859.05,242.71 L859.90,242.66 L860.76,242.62 L861.61,242.59 L862.47,242.55 L863.32,242.53 L864.18,242.50 L865.04,242.48 L865.90,242.45 L866.76,242.44 L867.62,242.42 L868.48,242.41 L869.34,242.40 L870.20,242.39 L871.07,242.38 L871.93,242.38 L872.79,242.37 L873.66,242.37 L874.52,242.37 L875.38,242.37 L876.24,242.38 L877.11,242.38 L877.97,242.39 L878.83,242.39 L879.69,242.40 L880.56,242.41 L881.42,242.42 L882.28,242.42 L883.14,242.43 L884.00,242.44 L884.86,242.45 L885.71,242.47 L886.57,242.48 L887.43,242.49 L888.29,242.50 L889.14,242.52 L890.00,242.53 L890.86,242.55 L891.71,242.56 L892.57,242.58 L893.42,242.59 L894.27,242.61 L895.13,242.63 L895.98,242.65 L896.83,242.67 L897.69,242.69 L898.54,242.71 L899.39,242.73 L900.24,242.75 L901.09,242.77 L901.94,242.79 L902.79,242.82 L903.64,242.84 L904.49,242.86 L905.34,242.89 L906.19,242.91 L907.03,242.94 L907.88,242.96 L908.73,242.99 L909.57,243.02 L910.42,243.04 L911.27,243.07 L912.11,243.10 L912.96,243.13 L913.80,243.16 L914.64,243.19 L915.49,243.22 L916.33,243.25 L917.18,243.28 L918.02,243.31 L918.86,243.35 L919.70,243.38 L920.54,243.41 L921.39,243.45 L922.23,243.48 L923.07,243.51 L923.91,243.55 L924.75,243.58 L925.59,243.62 L926.43,243.66 L927.27,243.69 L928.10,243.73 L928.94,243.77 L929.78,243.81 L930.62,243.85 L931.46,243.88 L932.29,243.92 L933.13,243.96 L933.97,244.00 L934.80,244.04 L935.64,244.08 L936.47,244.13 L937.31,244.17 L938.14,244.21 L938.98,244.25 L939.81,244.29 L940.65,244.34 L941.48,244.38 L942.31,244.42 L943.15,244.47 L943.98,244.51 L944.81,244.56 L945.65,244.60 L946.48,244.65 L947.31,244.70 L948.14,244.74 L948.97,244.79 L949.80,244.84 L950.64,244.88 L951.47,244.93 L952.30,244.98 L953.13,245.03 L953.96,245.07 L954.79,245.12 L955.62,245.17 L956.45,245.22 L957.27,245.27 L958.10,245.32 L958.93,245.37 L959.76,245.42 L960.59,245.47 L961.42,245.52 L962.24,245.58 L963.07,245.63 L963.90,245.68 L964.73,245.73 L965.55,245.78 L966.38,245.84 L967.21,245.89 L968.03,245.94 L968.86,246.00 L969.69,246.05 L970.51,246.10 L971.34,246.16 L972.16,246.21 L972.99,246.27 L973.81,246.32 L974.64,246.38 L975.46,246.43 L976.29,246.49 L977.11,246.54 L977.94,246.60 L978.76,246.65 L979.59,246.71 L980.41,246.77 L981.23,246.82 L982.06,246.88 L982.88,246.94 L983.70,246.99 L984.53,247.05 L985.35,247.11 L986.17,247.17 L987.00,247.22 L987.82,247.28 L988.64,247.34 L989.46,247.40 L990.29,247.46 L991.11,247.52 L991.93,247.57 L992.75,247.63 L993.58,247.69 L994.40,247.75 L995.22,247.81 L996.04,247.87 L996.86,247.93 L997.68,247.99 L998.51,248.05 L999.33,248.11 L1000.15,248.17 L1000.97,248.23 L1001.79,248.29 L1002.61,248.35 L1003.43,248.41 L1004.25,248.47 L1005.08,248.53 L1005.90,248.59 L1006.72,248.65 L1007.54,248.71 L1008.36,248.77 L1009.18,248.83 L1010.00,248.89 L1010.82,248.95 L1011.64,249.01 L1012.46,249.07 L1013.28,249.13 L1014.10,249.19 L1014.92,249.25 L1015.74,249.31 L1016.57,249.38 L1017.39,249.44 L1018.21,249.50 L1019.03,249.56 L1019.85,249.62 L1020.67,249.68 L1021.49,249.74 L1022.31,249.80 L1023.13,249.86 L1023.95,249.92 L1024.77,249.98 L1025.59,250.04 L1026.41,250.11 L1027.23,250.17 L1028.05,250.23 L1028.87,250.29 L1029.69,250.35 L1030.51,250.41 L1031.33,250.47 L1032.16,250.53 L1032.98,250.59 L1033.80,250.65 L1034.62,250.71 L1035.44,250.77 L1036.26,250.83 L1037.08,250.89 L1037.90,250.95 L1038.72,251.01 L1039.54,251.07 L1040.37,251.13 L1041.19,251.19 L1042.01,251.25 L1042.83,251.31 L1043.65,251.37 L1044.47,251.43 L1045.30,251.49 L1046.12,251.55 L1046.94,251.61 L1047.76,251.67 L1048.58,251.72 L1049.41,251.78 L1050.23,251.84 L1051.05,251.90 L1051.87,251.96 L1052.70,252.02 L1053.52,252.07 L1054.34,252.13 L1055.16,252.19 L1055.99,252.25 L1056.81,252.30 L1057.63,252.36 L1058.46,252.42 L1059.28,252.47 L1060.11,252.53 L1060.93,252.59 L1061.75,252.64 L1062.58,252.70 L1063.40,252.75 L1064.23,252.81 L1065.05,252.87 L1065.88,252.92 L1066.70,252.98 L1067.53,253.03 L1068.35,253.08 L1069.18,253.14 L1070.00,253.19 L1070.83,253.25 L1071.66,253.30 L1072.48,253.35 L1073.31,253.41 L1074.13,253.46 L1074.96,253.51 L1075.79,253.56 L1076.62,253.62 L1077.44,253.67 L1078.27,253.72 L1079.10,253.77 L1079.93,253.82 L1080.75,253.87 L1081.58,253.92 L1082.41,253.97 L1083.24,254.02 L1084.07,254.07 L1084.90,254.12 L1085.73,254.17 L1086.56,254.22 L1087.39,254.27 L1088.22,254.32 L1089.05,254.37 L1089.88,254.41 L1090.71,254.46 L1091.54,254.51 L1092.37,254.55 L1093.20,254.60 L1094.04,254.65 L1094.87,254.69 L1095.70,254.74 L1096.53,254.78 L1097.37,254.83 L1098.20,254.87 L1099.03,254.91 L1099.87,254.96 L1100.70,255.00 L1101.54,255.04 L1102.37,255.08 L1103.21,255.13 L1104.04,255.17 L1104.88,255.21 L1105.71,255.25 L1106.55,255.29 L1107.39,255.33 L1108.22,255.37 L1109.06,255.41 L1109.90,255.45 L1110.73,255.49 L1111.57,255.52 L1112.41,255.56 L1113.25,255.60 L1114.09,255.64 L1114.93,255.67 L1115.77,255.71 L1116.61,255.74 L1117.45,255.78 L1118.29,255.81 L1119.13,255.85 L1119.97,255.88 L1120.81,255.91 L1121.66,255.95 L1122.50,255.98 L1123.34,256.01 L1124.18,256.04 L1125.03,256.07 L1125.87,256.10 L1126.72,256.13 L1127.56,256.16 L1128.40,256.19 L1129.25,256.22 L1130.10,256.25 L1130.94,256.27 L1131.79,256.30 L1132.64,256.33 L1133.48,256.35 L1134.33,256.38 L1135.18,256.40 L1136.03,256.43 L1136.88,256.45 L1137.73,256.47 L1138.58,256.50 L1139.43,256.52 L1140.28,256.54 L1141.13,256.56 L1141.98,256.58 L1142.83,256.60 L1143.68,256.62 L1144.54,256.64 L1145.39,256.66 L1146.24,256.68 L1147.10,256.69 L1147.95,256.71 L1148.81,256.73 L1149.66,256.74 L1150.52,256.76 L1151.37,256.77 L1152.23,256.78 L1153.09,256.80 L1153.94,256.81 L1154.80,256.82 L1155.66,256.83 L1156.52,256.84 L1157.38,256.85 L1158.24,256.86" fill="none" stroke="#0000ff" stroke-width="3.20" stroke-linejoin="round" stroke-linecap="butt"/>
<path d="M701.02,207.89 L702.28,207.77 L703.55,207.65 L704.81,207.53 L706.08,207.40 L707.35,207.26 L708.61,207.13 L709.88,206.98 L711.15,206.83 L712.43,206.68 L713.70,206.52 L714.97,206.36 L716.25,206.19 L717.52,206.02 L718.80,205.84 L720.07,205.66 L721.35,205.47 L722.63,205.27 L723.90,205.07 L725.18,204.87 L726.46,204.66 L727.74,204.45 L729.01,204.23 L730.29,204.00 L731.57,203.77 L732.84,203.54 L734.12,203.30 L735.40,203.05 L736.67,202.80 L737.95,202.55 L739.22,202.28 L740.50,202.02 L741.77,201.74 L743.05,201.47 L744.32,201.18 L745.59,200.89 L746.86,200.60 L748.13,200.30 L749.39,199.99 L750.66,199.68 L751.92,199.36 L753.19,199.04 L754.45,198.71 L755.71,198.37 L756.97,198.03 L758.23,197.68 L759.48,197.33 L760.73,196.97 L761.99,196.61 L763.23,196.24 L764.48,195.86 L765.73,195.48 L766.97,195.09 L768.21,194.70 L769.45,194.30 L770.68,193.89 L771.92,193.48 L773.15,193.06 L774.37,192.63 L775.60,192.20 L776.82,191.76 L778.04,191.32 L779.26,190.87 L780.47,190.41 L781.68,189.95 L782.88,189.48 L784.09,189.01 L785.29,188.52 L786.48,188.04 L787.68,187.54 L788.87,187.04 L790.05,186.53 L791.23,186.02 L792.41,185.50 L793.58,184.97 L794.75,184.43 L795.92,183.89 L797.08,183.34 L798.24,182.79 L799.39,182.23 L800.54,181.66 L801.69,181.09 L802.82,180.50 L803.96,179.92 L805.09,179.32 L806.22,178.72 L807.34,178.11 L808.45,177.49 L809.56,176.87 L810.67,176.24 L811.77,175.60 L812.87,174.96 L813.96,174.31 L815.04,173.65 L816.12,172.98 L817.20,172.31 L818.26,171.63 L819.33,170.94 L820.38,170.25 L821.44,169.54 L822.48,168.83 L823.52,168.11 L824.56,167.38 L825.59,166.64 L826.62,165.89 L827.63,165.14 L828.65,164.37 L829.66,163.59 L830.66,162.80 L831.66,162.00 L832.65,161.19 L833.64,160.37 L834.62,159.53 L835.60,158.69 L836.57,157.83 L837.54,156.96 L838.50,156.08 L839.46,155.18 L840.41,154.27 L841.36,153.35 L842.30,152.41 L843.24,151.46 L844.17,150.49 L845.10,149.51 L846.02,148.51 L846.94,147.50 L847.85,146.48 L848.76,145.43 L849.67,144.37 L850.57,143.30 L851.46,142.21 L852.35,141.10 L853.24,139.99 L854.12,138.88 L855.01,137.76 L855.89,136.66 L856.78,135.56 L857.67,134.48 L858.55,133.42 L859.45,132.38 L860.35,131.37 L861.25,130.40 L862.16,129.46 L863.08,128.57 L864.00,127.73 L864.94,126.93 L865.88,126.20 L866.84,125.53 L867.81,124.92 L868.79,124.38 L869.78,123.92 L870.79,123.54 L871.82,123.24 L872.86,123.04 L873.92,122.92 L875.00,122.91 L876.10,123.00 L877.21,123.19 L878.33,123.48 L879.44,123.88 L880.54,124.36 L881.61,124.95 L882.64,125.61 L883.62,126.37 L884.54,127.21 L885.39,128.13 L886.17,129.13 L886.86,130.20 L887.47,131.33 L888.01,132.52 L888.50,133.75 L888.94,135.02 L889.34,136.32 L889.70,137.64 L890.05,138.97 L890.38,140.30 L890.71,141.63 L891.02,142.95 L891.33,144.27 L891.63,145.59 L891.93,146.91 L892.22,148.22 L892.50,149.53 L892.77,150.84 L893.04,152.15 L893.30,153.45 L893.56,154.75 L893.81,156.05 L894.05,157.35 L894.29,158.64 L894.52,159.93 L894.75,161.22 L894.97,162.51 L895.19,163.80 L895.40,165.09 L895.61,166.37 L895.81,167.65 L896.01,168.93 L896.21,170.21 L896.40,171.49 L896.58,172.77 L896.77,174.04 L896.94,175.32 L897.12,176.59 L897.29,177.87 L897.46,179.14 L897.63,180.41 L897.79,181.68 L897.95,182.95 L898.11,184.22 L898.27,185.50 L898.42,186.77 L898.57,188.04 L898.72,189.31 L898.87,190.58 L899.02,191.85 L899.16,193.12 L899.31,194.39 L899.45,195.66 L899.59,196.93 L899.73,198.20 L899.87,199.48 L900.01,200.75 L900.15,202.02 L900.29,203.30 L900.43,204.57 L900.56,205.85 L900.70,207.12 L900.83,208.40 L900.97,209.68 L901.10,210.96 L901.24,212.23 L901.37,213.51 L901.50,214.79 L901.63,216.07 L901.77,217.35 L901.90,218.63 L902.03,219.91 L902.16,221.19 L902.28,222.47 L902.41,223.75 L902.54,225.03 L902.67,226.32 L902.80,227.60 L902.92,228.88 L903.05,230.17 L903.17,231.45 L903.30,232.73 L903.43,234.02 L903.55,235.30 L903.67,236.59 L903.80,237.87 L903.92,239.16 L904.05,240.44 L904.17,241.73 L904.29,243.02 L904.41,244.30 L904.54,245.59 L904.66,246.88 L904.78,248.17 L904.90,249.45 L905.02,250.74 L905.14,252.03 L905.27,253.32 L905.39,254.61 L905.51,255.90 L905.63,257.19 L905.75,258.47 L905.87,259.76 L905.99,261.05 L906.11,262.34 L906.23,263.63 L906.35,264.92 L906.47,266.21 L906.59,267.50 L906.71,268.79 L906.83,270.08 L906.95,271.38 L907.07,272.67 L907.19,273.96 L907.31,275.25 L907.43,276.54 L907.55,277.83 L907.67,279.12 L907.79,280.41 L907.92,281.70 L908.04,283.00 L908.16,284.29 L908.28,285.58 L908.40,286.87 L908.52,288.16 L908.65,289.45 L908.77,290.75 L908.89,292.04 L909.01,293.33 L909.14,294.62 L909.26,295.91 L909.39,297.20 L909.51,298.49 L909.64,299.79 L909.76,301.08 L909.89,302.37 L910.01,303.66 L910.14,304.95 L910.26,306.24 L910.39,307.53 L910.52,308.82 L910.65,310.11 L910.78,311.40 L910.91,312.69 L911.04,313.98 L911.17,315.27 L911.30,316.56 L911.43,317.85 L911.56,319.14 L911.69,320.43 L911.82,321.72 L911.96,323.01 L912.09,324.30 L912.23,325.59 L912.36,326.88 L912.50,328.17 L912.64,329.45 L912.77,330.74 L912.91,332.03 L913.05,333.32 L913.19,334.60 L913.33,335.89 L913.47,337.18 L913.62,338.46 L913.76,339.75 L913.90,341.04 L914.05,342.32 L914.19,343.61 L914.34,344.89 L914.49,346.18 L914.63,347.46 L914.78,348.74 L914.93,350.03 L915.08,351.31 L915.24,352.59 L915.39,353.88 L915.54,355.16 L915.70,356.44 L915.85,357.72 L916.01,359.00 L916.17,360.28 L916.33,361.56 L916.49,362.84 L916.65,364.12 L916.81,365.40 L916.97,366.68 L917.14,367.96 L917.30,369.24 L917.47,370.51 L917.64,371.79 L917.81,373.07 L917.98,374.34 L918.15,375.62 L918.32,376.89 L918.49,378.17 L918.67,379.44 L918.84,380.71 L919.02,381.98 L919.20,383.26 L919.39,384.53 L919.58,385.80 L919.78,387.07 L920.00,388.33 L920.22,389.60 L920.46,390.86 L920.73,392.12 L921.01,393.38 L921.31,394.63 L921.64,395.88 L921.99,397.13 L922.37,398.37 L922.79,399.61 L923.24,400.85 L923.72,402.08 L924.24,403.31 L924.80,404.53 L925.40,405.75 L926.05,406.96 L926.74,408.16 L927.48,409.36 L928.28,410.54 L929.13,411.61 L930.06,412.52 L931.05,413.18 L932.14,413.52 L933.30,413.53 L934.50,413.28 L935.70,412.83 L936.88,412.28 L938.01,411.66 L939.09,410.98 L940.12,410.26 L941.11,409.49 L942.05,408.67 L942.96,407.82 L943.82,406.93 L944.66,406.00 L945.47,405.04 L946.24,404.05 L947.00,403.03 L947.74,402.00 L948.45,400.94 L949.16,399.86 L949.85,398.77 L950.53,397.67 L951.21,396.56 L951.89,395.45 L952.56,394.33 L953.24,393.22 L953.93,392.10 L954.62,390.99 L955.31,389.88 L956.01,388.77 L956.71,387.66 L957.42,386.56 L958.13,385.46 L958.85,384.36 L959.57,383.26 L960.29,382.16 L961.03,381.07 L961.76,379.99 L962.50,378.90 L963.25,377.82 L964.00,376.74 L964.75,375.67 L965.52,374.60 L966.28,373.53 L967.05,372.47 L967.83,371.42 L968.61,370.36 L969.40,369.32 L970.19,368.28 L970.99,367.24 L971.80,366.21 L972.61,365.18 L973.42,364.16 L974.24,363.14 L975.07,362.14 L975.90,361.13 L976.74,360.14 L977.59,359.15 L978.44,358.16 L979.29,357.19 L980.16,356.22 L981.03,355.25 L981.90,354.30 L982.78,353.35 L983.67,352.41 L984.56,351.47 L985.46,350.55 L986.37,349.63 L987.29,348.72 L988.21,347.82 L989.13,346.93 L990.07,346.05 L991.01,345.17 L991.95,344.31 L992.91,343.45 L993.87,342.60 L994.83,341.77 L995.81,340.94 L996.79,340.12 L997.78,339.31 L998.77,338.52 L999.78,337.73 L1000.79,336.95 L1001.80,336.18 L1002.83,335.43 L1003.86,334.68 L1004.90,333.95 L1005.95,333.23 L1007.00,332.52 L1008.06,331.82 L1009.13,331.13 L1010.21,330.45 L1011.29,329.79 L1012.39,329.14 L1013.49,328.50 L1014.59,327.87 L1015.71,327.25 L1016.83,326.64 L1017.95,326.05 L1019.09,325.46 L1020.23,324.89 L1021.38,324.32 L1022.53,323.77 L1023.69,323.22 L1024.85,322.69 L1026.02,322.16 L1027.20,321.64 L1028.38,321.14 L1029.57,320.64 L1030.76,320.15 L1031.95,319.67 L1033.16,319.20 L1034.36,318.74 L1035.57,318.28 L1036.79,317.84 L1038.01,317.40 L1039.23,316.97 L1040.46,316.54 L1041.69,316.13 L1042.92,315.72 L1044.16,315.32 L1045.40,314.92 L1046.65,314.53 L1047.89,314.15 L1049.14,313.78 L1050.40,313.41 L1051.65,313.04 L1052.91,312.69 L1054.17,312.34 L1055.44,311.99 L1056.70,311.65 L1057.97,311.31 L1059.24,310.98 L1060.51,310.66 L1061.78,310.34 L1063.05,310.02 L1064.33,309.71 L1065.60,309.40 L1066.88,309.10 L1068.15,308.80 L1069.43,308.50 L1070.71,308.21 L1071.99,307.92 L1073.26,307.63 L1074.54,307.35 L1075.82,307.07 L1077.10,306.79 L1078.37,306.51 L1079.65,306.24 L1080.93,305.97 L1082.20,305.70 L1083.47,305.43 L1084.75,305.16 L1086.02,304.90 L1087.29,304.64 L1088.56,304.37 L1089.82,304.11 L1091.09,303.85 L1092.35,303.59 L1093.61,303.34 L1094.88,303.08 L1096.14,302.83 L1097.40,302.58 L1098.66,302.33 L1099.91,302.08 L1101.17,301.84 L1102.43,301.59 L1103.69,301.35 L1104.94,301.11 L1106.20,300.88 L1107.46,300.65 L1108.71,300.42 L1109.97,300.19 L1111.23,299.97 L1112.48,299.75 L1113.74,299.53 L1115.00,299.32 L1116.26,299.10 L1117.52,298.90 L1118.78,298.70 L1120.04,298.50 L1121.31,298.30 L1122.57,298.11 L1123.83,297.92 L1125.10,297.74 L1126.37,297.56 L1127.64,297.39 L1128.91,297.22 L1130.18,297.05 L1131.46,296.89 L1132.74,296.74 L1134.01,296.59 L1135.30,296.44 L1136.58,296.30 L1137.87,296.17 L1139.15,296.04 L1140.45,295.91 L1141.74,295.80 L1143.04,295.68 L1144.34,295.58 L1145.64,295.48 L1146.95,295.38 L1148.25,295.30 L1149.57,295.21 L1150.88,295.14 L1152.20,295.07 L1153.52,295.01 L1154.85,294.95 L1156.18,294.90 L1157.52,294.86 L1158.85,294.82" fill="none" stroke="#00cc66" stroke-width="3.20" stroke-linejoin="round" stroke-linecap="butt"/>
<path d="M1355.80,355.40a11.00,11.00 0 1,0 22.00,0a11.00,11.00 0 1,0 -22.00,0M1363.30,339.20a11.00,11.00 0 1,0 22.00,0a11.00,11.00 0 1,0 -22.00,0M1371.00,323.00a11.00,11.00 0 1,0 22.00,0a11.00,11.00 0 1,0 -22.00,0M1378.30,306.60a11.00,11.00 0 1,0 22.00,0a11.00,11.00 0 1,0 -22.00,0M1386.30,290.40a11.00,11.00 0 1,0 22.00,0a11.00,11.00 0 1,0 -22.00,0M1394.20,274.20a11.00,11.00 0 1,0 22.00,0a11.00,11.00 0 1,0 -22.00,0M1405.40,258.00a11.00,11.00 0 1,0 22.00,0a11.00,11.00 0 1,0 -22.00,0M1415.50,241.80a11.00,11.00 0 1,0 22.00,0a11.00,11.00 0 1,0 -22.00,0M1426.00,225.50a11.00,11.00 0 1,0 22.00,0a11.00,11.00 0 1,0 -22.00,0M1436.00,209.30a11.00,11.00 0 1,0 22.00,0a11.00,11.00 0 1,0 -22.00,0M1445.80,193.00a11.00,11.00 0 1,0 22.00,0a11.00,11.00 0 1,0 -22.00,0M1456.50,176.80a11.00,11.00 0 1,0 22.00,0a11.00,11.00 0 1,0 -22.00,0M1467.00,160.50a11.00,11.00 0 1,0 22.00,0a11.00,11.00 0 1,0 -22.00,0M1476.90,144.30a11.00,11.00 0 1,0 22.00,0a11.00,11.00 0 1,0 -22.00,0M1488.20,128.10a11.00,11.00 0 1,0 22.00,0a11.00,11.00 0 1,0 -22.00,0M1499.00,111.80a11.00,11.00 0 1,0 22.00,0a11.00,11.00 0 1,0 -22.00,0" fill="none" stroke="#00cc66" stroke-width="3.50"/>
<path d="M1339.30,100.50h22.60v22.60h-22.60zM1349.90,116.80h22.60v22.60h-22.60zM1359.30,133.00h22.60v22.60h-22.60zM1369.20,149.20h22.60v22.60h-22.60zM1379.00,165.50h22.60v22.60h-22.60zM1386.70,181.70h22.60v22.60h-22.60zM1386.20,198.00h22.60v22.60h-22.60zM1397.70,214.20h22.60v22.60h-22.60zM1408.70,230.50h22.60v22.60h-22.60zM1414.10,246.70h22.60v22.60h-22.60zM1458.90,311.70h22.60v22.60h-22.60z" fill="none" stroke="#0000ff" stroke-width="3.4" stroke-linejoin="miter"/>
<path d="M1568.40,374.20L1581.00,394.20L1555.80,394.20zM1577.80,357.90L1590.40,377.90L1565.20,377.90zM1588.40,341.80L1601.00,361.80L1575.80,361.80zM1611.40,325.60L1624.00,345.60L1598.80,345.60zM1619.80,309.40L1632.40,329.40L1607.20,329.40zM1633.30,293.00L1645.90,313.00L1620.70,313.00zM1646.00,276.80L1658.60,296.80L1633.40,296.80zM1668.20,260.60L1680.80,280.60L1655.60,280.60zM1685.00,244.40L1697.60,264.40L1672.40,264.40zM1699.60,228.20L1712.20,248.20L1687.00,248.20zM1700.10,211.90L1712.70,231.90L1687.50,231.90z" fill="none" stroke="#ff0000" stroke-width="3.3" stroke-linejoin="miter"/>
<path d="M1310.65,135.80 L1311.11,135.80 L1311.58,135.80 L1312.04,135.81 L1312.50,135.82 L1312.96,135.83 L1313.43,135.84 L1313.89,135.86 L1314.35,135.88 L1314.81,135.90 L1315.28,135.93 L1315.74,135.95 L1316.20,135.98 L1316.66,136.02 L1317.13,136.05 L1317.59,136.09 L1318.05,136.13 L1318.51,136.17 L1318.98,136.22 L1319.44,136.27 L1319.90,136.32 L1320.36,136.37 L1320.83,136.43 L1321.29,136.49 L1321.75,136.55 L1322.21,136.61 L1322.68,136.68 L1323.14,136.75 L1323.60,136.82 L1324.06,136.90 L1324.53,136.98 L1324.99,137.06 L1325.45,137.14 L1325.91,137.22 L1326.38,137.31 L1326.84,137.40 L1327.30,137.50 L1327.76,137.59 L1328.23,137.69 L1328.69,137.79 L1329.15,137.90 L1329.61,138.00 L1330.08,138.11 L1330.54,138.22 L1331.00,138.34 L1331.46,138.46 L1331.93,138.58 L1332.39,138.70 L1332.85,138.82 L1333.31,138.95 L1333.78,139.08 L1334.24,139.22 L1334.70,139.35 L1335.16,139.49 L1335.63,139.63 L1336.09,139.78 L1336.55,139.92 L1337.01,140.07 L1337.48,140.22 L1337.94,140.38 L1338.40,140.54 L1338.86,140.70 L1339.33,140.86 L1339.79,141.03 L1340.25,141.19 L1340.71,141.37 L1341.18,141.54 L1341.64,141.72 L1342.10,141.90 L1342.56,142.08 L1343.03,142.26 L1343.49,142.45 L1343.95,142.64 L1344.41,142.83 L1344.88,143.03 L1345.34,143.23 L1345.80,143.43 L1346.26,143.63 L1346.73,143.84 L1347.19,144.05 L1347.65,144.26 L1348.11,144.48 L1348.58,144.70 L1349.04,144.92 L1349.50,145.14 L1349.96,145.37 L1350.43,145.60 L1350.89,145.83 L1351.35,146.07 L1351.81,146.30 L1352.28,146.54 L1352.74,146.79 L1353.20,147.03 L1353.66,147.28 L1354.13,147.54 L1354.59,147.79 L1355.05,148.05 L1355.52,148.31 L1355.98,148.57 L1356.44,148.84 L1356.90,149.11 L1357.37,149.38 L1357.83,149.66 L1358.29,149.94 L1358.75,150.22 L1359.22,150.50 L1359.68,150.79 L1360.14,151.08 L1360.60,151.37 L1361.07,151.67 L1361.53,151.96 L1361.99,152.27 L1362.45,152.57 L1362.92,152.88 L1363.38,153.19 L1363.84,153.50 L1364.30,153.82 L1364.77,154.14 L1365.23,154.46 L1365.69,154.79 L1366.15,155.12 L1366.62,155.45 L1367.08,155.78 L1367.54,156.12 L1368.00,156.46 L1368.47,156.80 L1368.93,157.15 L1369.39,157.50 L1369.85,157.85 L1370.32,158.21 L1370.78,158.57 L1371.24,158.93 L1371.70,159.30 L1372.17,159.67 L1372.63,160.04 L1373.09,160.41 L1373.55,160.79 L1374.02,161.17 L1374.48,161.56 L1374.94,161.95 L1375.40,162.34 L1375.87,162.73 L1376.33,163.13 L1376.79,163.53 L1377.25,163.93 L1377.72,164.34 L1378.18,164.75 L1378.64,165.16 L1379.10,165.58 L1379.57,166.00 L1380.03,166.43 L1380.49,166.85 L1380.95,167.28 L1381.42,167.72 L1381.88,168.15 L1382.34,168.59 L1382.80,169.04 L1383.27,169.49 L1383.73,169.94 L1384.19,170.39 L1384.65,170.85 L1385.12,171.31 L1385.58,171.77 L1386.04,172.24 L1386.50,172.71 L1386.97,173.19 L1387.43,173.66 L1387.89,174.15 L1388.35,174.63 L1388.82,175.12 L1389.28,175.61 L1389.74,176.11 L1390.20,176.61 L1390.67,177.11 L1391.13,177.62 L1391.59,178.13 L1392.05,178.64 L1392.52,179.16 L1392.98,179.68 L1393.44,180.21 L1393.90,180.74 L1394.37,181.27 L1394.83,181.81 L1395.29,182.35 L1395.75,182.89 L1396.22,183.44 L1396.68,183.99 L1397.14,184.55 L1397.60,185.11 L1398.07,185.67 L1398.53,186.24 L1398.99,186.81 L1399.46,187.38 L1399.92,187.96 L1400.38,188.54 L1400.84,189.13 L1401.31,189.72 L1401.77,190.32 L1402.23,190.92 L1402.69,191.52 L1403.16,192.13 L1403.62,192.74 L1404.08,193.35 L1404.54,193.97 L1405.01,194.60 L1405.47,195.23 L1405.93,195.86 L1406.39,196.50 L1406.86,197.14 L1407.32,197.78 L1407.78,198.43 L1408.24,199.08 L1408.71,199.74 L1409.17,200.41 L1409.63,201.07 L1410.09,201.74 L1410.56,202.42 L1411.02,203.10 L1411.48,203.79 L1411.94,204.48 L1412.41,205.17 L1412.87,205.87 L1413.33,206.57 L1413.79,207.28 L1414.26,207.99 L1414.72,208.71 L1415.18,209.43 L1415.64,210.16 L1416.11,210.89 L1416.57,211.63 L1417.03,212.37 L1417.49,213.12 L1417.96,213.87 L1418.42,214.63 L1418.88,215.39 L1419.34,216.16 L1419.81,216.93 L1420.27,217.70 L1420.73,218.49 L1421.19,219.27 L1421.66,220.07 L1422.12,220.87 L1422.58,221.67 L1423.04,222.48 L1423.51,223.29 L1423.97,224.11 L1424.43,224.94 L1424.89,225.77 L1425.36,226.60 L1425.82,227.45 L1426.28,228.29 L1426.74,229.15 L1427.21,230.01 L1427.67,230.87 L1428.13,231.74 L1428.59,232.62 L1429.06,233.50 L1429.52,234.39 L1429.98,235.29 L1430.44,236.19 L1430.91,237.09 L1431.37,238.01 L1431.83,238.93 L1432.29,239.85 L1432.76,240.79 L1433.22,241.72 L1433.68,242.67 L1434.14,243.62 L1434.61,244.58 L1435.07,245.55 L1435.53,246.52 L1435.99,247.50 L1436.46,248.48 L1436.92,249.48 L1437.38,250.48 L1437.84,251.49 L1438.31,252.50 L1438.77,253.52 L1439.23,254.55 L1439.69,255.59 L1440.16,256.63 L1440.62,257.68 L1441.08,258.74 L1441.54,259.81 L1442.01,260.89 L1442.47,261.97 L1442.93,263.06 L1443.40,264.16 L1443.86,265.27 L1444.32,266.38 L1444.78,267.51 L1445.25,268.64 L1445.71,269.78 L1446.17,270.94 L1446.63,272.09 L1447.10,273.26 L1447.56,274.44 L1448.02,275.63 L1448.48,276.82 L1448.95,278.03 L1449.41,279.25 L1449.87,280.47 L1450.33,281.71 L1450.80,282.95 L1451.26,284.21 L1451.72,285.47 L1452.18,286.75 L1452.65,288.03 L1453.11,289.33 L1453.57,290.64 L1454.03,291.96 L1454.50,293.29 L1454.96,294.63 L1455.42,295.99 L1455.88,297.35 L1456.35,298.73 L1456.81,300.12 L1457.27,301.53 L1457.73,302.94 L1458.20,304.37 L1458.66,305.81 L1459.12,307.27 L1459.58,308.74 L1460.05,310.22 L1460.51,311.72 L1460.97,313.23 L1461.43,314.75 L1461.90,316.30 L1462.36,317.85 L1462.82,319.42 L1463.28,321.01 L1463.75,322.62 L1464.21,324.24 L1464.67,325.88 L1465.13,327.53 L1465.60,329.21 L1466.06,330.90 L1466.52,332.61 L1466.98,334.34 L1467.45,336.09 L1467.91,337.86 L1468.37,339.65 L1468.83,341.47 L1469.30,343.30 L1469.76,345.16 L1470.22,347.04 L1470.68,348.94 L1471.15,350.87 L1471.61,352.82 L1472.07,354.80 L1472.53,356.80 L1473.00,358.84 L1473.46,360.90 L1473.92,362.99 L1474.38,365.11 L1474.85,367.26 L1475.31,369.45 L1475.77,371.67 L1476.23,373.93 L1476.70,376.22 L1477.16,378.55 L1477.62,380.92 L1478.08,383.33 L1478.55,385.79 L1479.01,388.29 L1479.47,390.84 L1479.93,393.44 L1480.40,396.09 L1480.86,398.80 L1481.32,401.56 L1481.78,404.39 L1482.25,407.28 L1482.71,410.25 L1483.17,413.29 L1483.63,416.41 L1484.10,419.61 L1484.56,422.91 L1485.02,426.31 L1485.48,429.81 L1485.95,433.44 L1486.41,437.20 L1486.87,441.10 L1487.34,445.16 L1487.80,449.40 L1488.26,453.85 L1493.00,550.24" fill="none" stroke="#0000ff" stroke-width="3.20" stroke-linejoin="round" stroke-linecap="butt" clip-path="url(#clipC)"/>
<path d="M1523.94,468.18 L1524.62,466.54 L1525.30,464.92 L1525.98,463.32 L1526.65,461.74 L1527.33,460.19 L1528.01,458.65 L1528.69,457.13 L1529.36,455.62 L1530.04,454.13 L1530.72,452.66 L1531.40,451.21 L1532.08,449.77 L1532.75,448.34 L1533.43,446.93 L1534.11,445.53 L1534.79,444.14 L1535.46,442.77 L1536.14,441.41 L1536.82,440.06 L1537.50,438.72 L1538.17,437.39 L1538.85,436.08 L1539.53,434.77 L1540.21,433.48 L1540.88,432.19 L1541.56,430.92 L1542.24,429.65 L1542.92,428.39 L1543.59,427.15 L1544.27,425.91 L1544.95,424.68 L1545.63,423.46 L1546.30,422.25 L1546.98,421.04 L1547.66,419.84 L1548.34,418.65 L1549.02,417.47 L1549.69,416.30 L1550.37,415.13 L1551.05,413.97 L1551.73,412.82 L1552.40,411.67 L1553.08,410.53 L1553.76,409.40 L1554.44,408.27 L1555.11,407.15 L1555.79,406.03 L1556.47,404.93 L1557.15,403.82 L1557.82,402.73 L1558.50,401.64 L1559.18,400.55 L1559.86,399.47 L1560.53,398.40 L1561.21,397.33 L1561.89,396.26 L1562.57,395.20 L1563.24,394.15 L1563.92,393.10 L1564.60,392.06 L1565.28,391.02 L1565.96,389.98 L1566.63,388.95 L1567.31,387.93 L1567.99,386.91 L1568.67,385.89 L1569.34,384.88 L1570.02,383.87 L1570.70,382.87 L1571.38,381.87 L1572.05,380.88 L1572.73,379.89 L1573.41,378.90 L1574.09,377.92 L1574.76,376.94 L1575.44,375.97 L1576.12,375.00 L1576.80,374.03 L1577.47,373.06 L1578.15,372.11 L1578.83,371.15 L1579.51,370.20 L1580.18,369.25 L1580.86,368.30 L1581.54,367.36 L1582.22,366.42 L1582.90,365.49 L1583.57,364.56 L1584.25,363.63 L1584.93,362.70 L1585.61,361.78 L1586.28,360.86 L1586.96,359.94 L1587.64,359.03 L1588.32,358.12 L1588.99,357.22 L1589.67,356.31 L1590.35,355.41 L1591.03,354.51 L1591.70,353.62 L1592.38,352.73 L1593.06,351.84 L1593.74,350.95 L1594.41,350.07 L1595.09,349.19 L1595.77,348.31 L1596.45,347.43 L1597.12,346.56 L1597.80,345.69 L1598.48,344.82 L1599.16,343.96 L1599.84,343.10 L1600.51,342.24 L1601.19,341.38 L1601.87,340.52 L1602.55,339.67 L1603.22,338.82 L1603.90,337.97 L1604.58,337.13 L1605.26,336.28 L1605.93,335.44 L1606.61,334.61 L1607.29,333.77 L1607.97,332.94 L1608.64,332.10 L1609.32,331.27 L1610.00,330.45 L1610.68,329.62 L1611.35,328.80 L1612.03,327.98 L1612.71,327.16 L1613.39,326.34 L1614.06,325.53 L1614.74,324.72 L1615.42,323.91 L1616.10,323.10 L1616.78,322.29 L1617.45,321.49 L1618.13,320.69 L1618.81,319.89 L1619.49,319.09 L1620.16,318.29 L1620.84,317.50 L1621.52,316.71 L1622.20,315.92 L1622.87,315.13 L1623.55,314.34 L1624.23,313.56 L1624.91,312.77 L1625.58,311.99 L1626.26,311.21 L1626.94,310.43 L1627.62,309.66 L1628.29,308.88 L1628.97,308.11 L1629.65,307.34 L1630.33,306.57 L1631.00,305.81 L1631.68,305.04 L1632.36,304.28 L1633.04,303.51 L1633.72,302.75 L1634.39,301.99 L1635.07,301.24 L1635.75,300.48 L1636.43,299.73 L1637.10,298.97 L1637.78,298.22 L1638.46,297.47 L1639.14,296.73 L1639.81,295.98 L1640.49,295.24 L1641.17,294.49 L1641.85,293.75 L1642.52,293.01 L1643.20,292.27 L1643.88,291.54 L1644.56,290.80 L1645.23,290.07 L1645.91,289.33 L1646.59,288.60 L1647.27,287.87 L1647.95,287.14 L1648.62,286.42 L1649.30,285.69 L1649.98,284.97 L1650.66,284.24 L1651.33,283.52 L1652.01,282.80 L1652.69,282.08 L1653.37,281.37 L1654.04,280.65 L1654.72,279.94 L1655.40,279.22 L1656.08,278.51 L1656.75,277.80 L1657.43,277.09 L1658.11,276.38 L1658.79,275.68 L1659.46,274.97 L1660.14,274.27 L1660.82,273.56 L1661.50,272.86 L1662.17,272.16 L1662.85,271.46 L1663.53,270.76 L1664.21,270.07 L1664.89,269.37 L1665.56,268.68 L1666.24,267.98 L1666.92,267.29 L1667.60,266.60 L1668.27,265.91 L1668.95,265.22 L1669.63,264.54 L1670.31,263.85 L1670.98,263.17 L1671.66,262.48 L1672.34,261.80 L1673.02,261.12 L1673.69,260.44 L1674.37,259.76 L1675.05,259.08 L1675.73,258.40 L1676.40,257.73 L1677.08,257.05 L1677.76,256.38 L1678.44,255.71 L1679.11,255.04 L1679.79,254.36 L1680.47,253.70 L1681.15,253.03 L1681.83,252.36 L1682.50,251.69 L1683.18,251.03 L1683.86,250.36 L1684.54,249.70 L1685.21,249.04 L1685.89,248.38 L1686.57,247.72 L1687.25,247.06 L1687.92,246.40 L1688.60,245.74 L1689.28,245.09 L1689.96,244.43 L1690.63,243.78 L1691.31,243.13 L1691.99,242.47 L1692.67,241.82 L1693.34,241.17 L1694.02,240.52 L1694.70,239.88 L1695.38,239.23 L1696.05,238.58 L1696.73,237.94 L1697.41,237.29 L1698.09,236.65 L1698.77,236.01 L1699.44,235.36 L1700.12,234.72 L1700.80,234.08 L1701.48,233.45 L1702.15,232.81 L1702.83,232.17 L1703.51,231.53 L1704.19,230.90 L1704.86,230.26 L1705.54,229.63 L1706.22,229.00 L1706.90,228.37 L1707.57,227.74 L1708.25,227.11 L1708.93,226.48 L1709.61,225.85 L1710.28,225.22 L1710.96,224.59 L1711.64,223.97 L1712.32,223.34 L1712.99,222.72 L1713.67,222.10 L1714.35,221.47 L1715.03,220.85 L1715.71,220.23 L1716.38,219.61 L1717.06,218.99 L1717.74,218.37 L1718.42,217.76 L1719.09,217.14 L1719.77,216.52 L1720.45,215.91 L1721.13,215.30 L1721.80,214.68 L1722.48,214.07 L1723.16,213.46 L1723.84,212.85 L1724.51,212.24 L1725.19,211.63 L1725.87,211.02 L1726.55,210.41 L1727.22,209.80 L1727.90,209.20 L1728.58,208.59 L1729.26,207.99 L1729.93,207.38 L1730.61,206.78 L1731.29,206.18 L1731.97,205.57 L1732.65,204.97 L1733.32,204.37 L1734.00,203.77 L1734.68,203.17 L1735.36,202.57 L1736.03,201.98 L1736.71,201.38 L1737.39,200.78 L1738.07,200.19 L1738.74,199.59 L1739.42,199.00 L1740.10,198.41 L1740.78,197.81 L1741.45,197.22 L1742.13,196.63 L1742.81,196.04 L1743.49,195.45 L1744.16,194.86 L1744.84,194.27 L1745.52,193.69 L1746.20,193.10 L1746.87,192.51 L1747.55,191.93 L1748.23,191.34 L1748.91,190.76 L1749.59,190.17 L1750.26,189.59 L1750.94,189.01 L1751.62,188.43 L1752.30,187.85 L1752.97,187.26 L1753.65,186.69 L1754.33,186.11 L1755.01,185.53 L1755.68,184.95 L1756.36,184.37 L1757.04,183.80 L1757.72,183.22 L1758.39,182.65 L1759.07,182.07 L1759.75,181.50 L1760.43,180.92 L1761.10,180.35 L1761.78,179.78 L1762.46,179.21 L1763.14,178.64 L1763.81,178.07 L1764.49,177.50 L1765.17,176.93 L1765.85,176.36 L1766.53,175.79 L1767.20,175.22 L1767.88,174.66 L1768.56,174.09 L1769.24,173.53 L1769.91,172.96 L1770.59,172.40 L1771.27,171.83 L1771.95,171.27 L1772.62,170.71 L1773.30,170.15 L1773.98,169.59 L1774.66,169.02" fill="none" stroke="#ff0000" stroke-width="3.20" stroke-linejoin="round" stroke-linecap="butt" clip-path="url(#clipC)"/>
<path d="M1339.50,452.59 L1339.68,451.78 L1339.86,450.98 L1340.04,450.17 L1340.22,449.37 L1340.40,448.57 L1340.59,447.76 L1340.78,446.96 L1340.96,446.16 L1341.15,445.35 L1341.34,444.55 L1341.53,443.75 L1341.72,442.95 L1341.91,442.15 L1342.11,441.35 L1342.30,440.55 L1342.50,439.75 L1342.69,438.95 L1342.89,438.15 L1343.09,437.35 L1343.29,436.55 L1343.49,435.76 L1343.69,434.96 L1343.90,434.16 L1344.10,433.37 L1344.30,432.57 L1344.51,431.77 L1344.72,430.98 L1344.92,430.18 L1345.13,429.39 L1345.34,428.59 L1345.55,427.80 L1345.77,427.01 L1345.98,426.21 L1346.19,425.42 L1346.41,424.63 L1346.62,423.83 L1346.84,423.04 L1347.06,422.25 L1347.28,421.46 L1347.50,420.67 L1347.72,419.88 L1347.94,419.09 L1348.17,418.30 L1348.39,417.51 L1348.61,416.72 L1348.84,415.93 L1349.07,415.14 L1349.30,414.35 L1349.52,413.56 L1349.75,412.78 L1349.99,411.99 L1350.22,411.20 L1350.45,410.42 L1350.68,409.63 L1350.92,408.85 L1351.16,408.06 L1351.39,407.28 L1351.63,406.49 L1351.87,405.71 L1352.11,404.92 L1352.35,404.14 L1352.59,403.36 L1352.83,402.57 L1353.08,401.79 L1353.32,401.01 L1353.57,400.23 L1353.81,399.45 L1354.06,398.67 L1354.31,397.88 L1354.56,397.10 L1354.81,396.32 L1355.06,395.55 L1355.31,394.77 L1355.57,393.99 L1355.82,393.21 L1356.08,392.43 L1356.33,391.65 L1356.59,390.88 L1356.85,390.10 L1357.11,389.32 L1357.37,388.55 L1357.63,387.77 L1357.89,386.99 L1358.15,386.22 L1358.42,385.44 L1358.68,384.67 L1358.95,383.89 L1359.21,383.12 L1359.48,382.35 L1359.75,381.57 L1360.02,380.80 L1360.29,380.03 L1360.56,379.26 L1360.83,378.48 L1361.10,377.71 L1361.38,376.94 L1361.65,376.17 L1361.93,375.40 L1362.20,374.63 L1362.48,373.86 L1362.76,373.09 L1363.04,372.32 L1363.32,371.55 L1363.60,370.79 L1363.88,370.02 L1364.16,369.25 L1364.45,368.48 L1364.73,367.72 L1365.02,366.95 L1365.30,366.18 L1365.59,365.42 L1365.88,364.65 L1366.17,363.89 L1366.46,363.12 L1366.75,362.36 L1367.04,361.59 L1367.33,360.83 L1367.63,360.07 L1367.92,359.30 L1368.22,358.54 L1368.51,357.78 L1368.81,357.02 L1369.11,356.25 L1369.40,355.49 L1369.70,354.73 L1370.00,353.97 L1370.31,353.21 L1370.61,352.45 L1370.91,351.69 L1371.21,350.93 L1371.52,350.17 L1371.82,349.41 L1372.13,348.66 L1372.44,347.90 L1372.75,347.14 L1373.06,346.38 L1373.37,345.63 L1373.68,344.87 L1373.99,344.11 L1374.30,343.36 L1374.61,342.60 L1374.93,341.85 L1375.24,341.09 L1375.56,340.34 L1375.87,339.58 L1376.19,338.83 L1376.51,338.08 L1376.83,337.32 L1377.15,336.57 L1377.47,335.82 L1377.79,335.07 L1378.11,334.32 L1378.44,333.56 L1378.76,332.81 L1379.08,332.06 L1379.41,331.31 L1379.74,330.56 L1380.06,329.81 L1380.39,329.06 L1380.72,328.31 L1381.05,327.57 L1381.38,326.82 L1381.71,326.07 L1382.04,325.32 L1382.38,324.57 L1382.71,323.83 L1383.04,323.08 L1383.38,322.33 L1383.72,321.59 L1384.05,320.84 L1384.39,320.10 L1384.73,319.35 L1385.07,318.61 L1385.41,317.86 L1385.75,317.12 L1386.09,316.38 L1386.43,315.63 L1386.77,314.89 L1387.12,314.15 L1387.46,313.41 L1387.81,312.66 L1388.15,311.92 L1388.50,311.18 L1388.85,310.44 L1389.20,309.70 L1389.55,308.96 L1389.90,308.22 L1390.25,307.48 L1390.60,306.74 L1390.95,306.00 L1391.30,305.27 L1391.66,304.53 L1392.01,303.79 L1392.37,303.05 L1392.72,302.31 L1393.08,301.58 L1393.44,300.84 L1393.80,300.11 L1394.16,299.37 L1394.52,298.63 L1394.88,297.90 L1395.24,297.16 L1395.60,296.43 L1395.96,295.70 L1396.33,294.96 L1396.69,294.23 L1397.06,293.50 L1397.42,292.76 L1397.79,292.03 L1398.16,291.30 L1398.52,290.57 L1398.89,289.84 L1399.26,289.10 L1399.63,288.37 L1400.00,287.64 L1400.37,286.91 L1400.75,286.18 L1401.12,285.45 L1401.49,284.73 L1401.87,284.00 L1402.24,283.27 L1402.62,282.54 L1402.99,281.81 L1403.37,281.09 L1403.75,280.36 L1404.13,279.63 L1404.51,278.90 L1404.89,278.18 L1405.27,277.45 L1405.65,276.73 L1406.03,276.00 L1406.41,275.28 L1406.80,274.55 L1407.18,273.83 L1407.57,273.11 L1407.95,272.38 L1408.34,271.66 L1408.73,270.94 L1409.11,270.21 L1409.50,269.49 L1409.89,268.77 L1410.28,268.05 L1410.67,267.33 L1411.06,266.61 L1411.45,265.89 L1411.85,265.17 L1412.24,264.45 L1412.63,263.73 L1413.03,263.01 L1413.42,262.29 L1413.82,261.57 L1414.21,260.85 L1414.61,260.13 L1415.01,259.42 L1415.41,258.70 L1415.80,257.98 L1416.20,257.27 L1416.60,256.55 L1417.01,255.84 L1417.41,255.12 L1417.81,254.40 L1418.21,253.69 L1418.62,252.98 L1419.02,252.26 L1419.42,251.55 L1419.83,250.83 L1420.24,250.12 L1420.64,249.41 L1421.05,248.69 L1421.46,247.98 L1421.87,247.27 L1422.28,246.56 L1422.68,245.85 L1423.10,245.14 L1423.51,244.43 L1423.92,243.72 L1424.33,243.01 L1424.74,242.30 L1425.16,241.59 L1425.57,240.88 L1425.99,240.17 L1426.40,239.46 L1426.82,238.75 L1427.23,238.05 L1427.65,237.34 L1428.07,236.63 L1428.49,235.92 L1428.91,235.22 L1429.33,234.51 L1429.75,233.81 L1430.17,233.10 L1430.59,232.40 L1431.01,231.69 L1431.43,230.99 L1431.85,230.28 L1432.28,229.58 L1432.70,228.87 L1433.13,228.17 L1433.55,227.47 L1433.98,226.77 L1434.41,226.06 L1434.83,225.36 L1435.26,224.66 L1435.69,223.96 L1436.12,223.26 L1436.55,222.56 L1436.98,221.86 L1437.41,221.16 L1437.84,220.46 L1438.27,219.76 L1438.70,219.06 L1439.14,218.36 L1439.57,217.66 L1440.00,216.96 L1440.44,216.27 L1440.87,215.57 L1441.31,214.87 L1441.75,214.18 L1442.18,213.48 L1442.62,212.78 L1443.06,212.09 L1443.50,211.39 L1443.94,210.70 L1444.38,210.00 L1444.82,209.31 L1445.26,208.61 L1445.70,207.92 L1446.14,207.23 L1446.58,206.53 L1447.02,205.84 L1447.47,205.15 L1447.91,204.45 L1448.36,203.76 L1448.80,203.07 L1449.25,202.38 L1449.69,201.69 L1450.14,201.00 L1450.58,200.31 L1451.03,199.62 L1451.48,198.93 L1451.93,198.24 L1452.38,197.55 L1452.83,196.86 L1453.28,196.17 L1453.73,195.48 L1454.18,194.80 L1454.63,194.11 L1455.08,193.42 L1455.54,192.73 L1455.99,192.05 L1456.44,191.36 L1456.90,190.68 L1457.35,189.99 L1457.81,189.30 L1458.26,188.62 L1458.72,187.93 L1459.17,187.25 L1459.63,186.57 L1460.09,185.88 L1460.55,185.20 L1461.00,184.52 L1461.46,183.83 L1461.92,183.15 L1462.38,182.47 L1462.84,181.79 L1463.30,181.10 L1463.77,180.42 L1464.23,179.74 L1464.69,179.06 L1465.15,178.38 L1465.62,177.70 L1466.08,177.02 L1466.54,176.34 L1467.01,175.66 L1467.47,174.98 L1467.94,174.31 L1468.40,173.63 L1468.87,172.95 L1469.34,172.27 L1469.81,171.59 L1470.27,170.92 L1470.74,170.24 L1471.21,169.57 L1471.68,168.89 L1472.15,168.21 L1472.62,167.54 L1473.09,166.86 L1473.56,166.19 L1474.03,165.51 L1474.50,164.84 L1474.98,164.17 L1475.45,163.49 L1475.92,162.82 L1476.39,162.15 L1476.87,161.47 L1477.34,160.80 L1477.82,160.13 L1478.29,159.46 L1478.77,158.79 L1479.24,158.12 L1479.72,157.44 L1480.20,156.77 L1480.67,156.10 L1481.15,155.43 L1481.63,154.76 L1482.11,154.10 L1482.59,153.43 L1483.07,152.76 L1483.55,152.09 L1484.03,151.42 L1484.51,150.75 L1484.99,150.09 L1485.47,149.42 L1485.95,148.75 L1486.43,148.09 L1486.92,147.42 L1487.40,146.75 L1487.88,146.09 L1488.37,145.42 L1488.85,144.76 L1489.33,144.09 L1489.82,143.43 L1490.30,142.77 L1490.79,142.10 L1491.28,141.44 L1491.76,140.78 L1492.25,140.11 L1492.74,139.45 L1493.22,138.79 L1493.71,138.13 L1494.20,137.46 L1494.69,136.80 L1495.18,136.14 L1495.67,135.48 L1496.16,134.82 L1496.65,134.16 L1497.14,133.50 L1497.63,132.84 L1498.12,132.18 L1498.61,131.52 L1499.10,130.87 L1499.59,130.21 L1500.09,129.55 L1500.58,128.89 L1501.07,128.23 L1501.57,127.58 L1502.06,126.92 L1502.56,126.26 L1503.05,125.61 L1503.54,124.95 L1504.04,124.30 L1504.54,123.64 L1505.03,122.99 L1505.53,122.33 L1506.02,121.68 L1506.52,121.02 L1507.02,120.37 L1507.52,119.72 L1508.01,119.06 L1508.51,118.41 L1509.01,117.76 L1509.51,117.11 L1510.01,116.45 L1510.51,115.80 L1511.01,115.15 L1511.51,114.50 L1512.01,113.85 L1512.51,113.20 L1513.01,112.55 L1513.51,111.90 L1514.01,111.25 L1514.52,110.60 L1515.02,109.95 L1515.52,109.30 L1516.02,108.65 L1516.53,108.00 L1517.03,107.36 L1517.53,106.71 L1518.04,106.06 L1518.54,105.42 L1519.05,104.77 L1519.55,104.12 L1520.06,103.48 L1520.56,102.83 L1521.07,102.19 L1521.57,101.54 L1522.08,100.90 L1522.59,100.25 L1523.09,99.61 L1523.60,98.96 L1524.11,98.32 L1524.62,97.68 L1525.12,97.03 L1525.63,96.39 L1526.14,95.75 L1526.65,95.11 L1527.16,94.46 L1527.67,93.82 L1528.18,93.18 L1528.69,92.54 L1529.20,91.90 L1529.71,91.26 L1530.22,90.62 L1530.73,89.98 L1531.24,89.34 L1531.75,88.70 L1532.26,88.06 L1532.77,87.42 L1533.29,86.78 L1533.80,86.15 L1534.31,85.51 L1534.82,84.87 L1535.34,84.23 L1535.85,83.60 L1536.36,82.96 L1536.88,82.32 L1537.39,81.69 L1537.90,81.05 L1538.42,80.42 L1538.93,79.78 L1539.45,79.15 L1539.96,78.51 L1540.48,77.88 L1540.99,77.24 L1541.51,76.61 L1542.02,75.98 L1542.54,75.34 L1543.06,74.71 L1543.57,74.08 L1544.09,73.45 L1544.61,72.81 L1545.12,72.18 L1545.64,71.55 L1546.16,70.92 L1546.68,70.29 L1547.20,69.66 L1547.71,69.03 L1548.23,68.40 L1548.75,67.77 L1549.27,67.14 L1549.79,66.51 L1550.31,65.88 L1550.83,65.25 L1551.35,64.62 L1551.87,64.00 L1552.38,63.37 L1552.90,62.74 L1553.43,62.11 L1553.95,61.49 L1554.47,60.86 L1554.99,60.23 L1555.51,59.61 L1556.03,58.98 L1556.55,58.36 L1557.07,57.73 L1557.59,57.11 L1558.11,56.48 L1558.64,55.86 L1559.16,55.24 L1559.68,54.61 L1560.20,53.99 L1560.73,53.36 L1561.25,52.74 L1561.77,52.12 L1562.29,51.50 L1562.82,50.88 L1563.34,50.25 L1563.86,49.63 L1564.39,49.01 L1564.91,48.39 L1565.43,47.77 L1565.96,47.15 L1566.48,46.53 L1567.01,45.91 L1567.53,45.29 L1568.06,44.67 L1568.58,44.05 L1569.11,43.43 L1569.63,42.82 L1570.16,42.20 L1570.68,41.58 L1571.21,40.96 L1571.73,40.35 L1572.26,39.73 L1572.78,39.11 L1573.31,38.50 L1573.83,37.88 L1574.36,37.26 L1574.89,36.65 L1575.41,36.03 L1575.94,35.42 L1576.47,34.80 L1576.99,34.19 L1577.52,33.58 L1578.05,32.96 L1578.57,32.35 L1579.10,31.74 L1579.63,31.12 L1580.15,30.51" fill="none" stroke="#00cc66" stroke-width="3.20" stroke-linejoin="round" stroke-linecap="butt" clip-path="url(#clipC)"/>
<rect x="204.60" y="56.40" width="205.90" height="109.80" fill="#fff" stroke="#000" stroke-width="1.8"/>
<circle cx="222.00" cy="74.30" r="7.05" fill="none" stroke="#000" stroke-width="3.6"/>
<path d="M212.50,99.40H231.50" stroke="#000" stroke-width="3.8"/>
<path d="M212.50,124.50H231.50" stroke="#00cc66" stroke-width="3.8"/>
<path d="M212.50,149.60H231.50" stroke="#ff0000" stroke-width="3.8"/>
<g transform="translate(241.00,81.60) scale(0.975,1)"><text font-family='"Liberation Sans", sans-serif' font-size="23.00">Raw data</text></g>
<g transform="translate(241.00,106.70) scale(0.975,1)"><text font-family='"Liberation Sans", sans-serif' font-size="23.00">Total Calculation</text></g>
<g transform="translate(241.00,131.80) scale(0.975,1)"><text font-family='"Liberation Sans", sans-serif' font-size="23.00">AC Calculation</text></g>
<g transform="translate(241.00,156.90) scale(0.975,1)"><text font-family='"Liberation Sans", sans-serif' font-size="23.00">OP Calculation</text></g>
<rect x="942.60" y="63.30" width="205.80" height="110.00" fill="#fff" stroke="#000" stroke-width="1.8"/>
<circle cx="959.70" cy="81.50" r="7.05" fill="none" stroke="#000" stroke-width="3.6"/>
<path d="M950.20,106.60H969.20" stroke="#000" stroke-width="3.8"/>
<path d="M950.20,131.70H969.20" stroke="#00cc66" stroke-width="3.8"/>
<path d="M950.20,156.80H969.20" stroke="#0000ff" stroke-width="3.8"/>
<g transform="translate(977.90,88.80) scale(0.975,1)"><text font-family='"Liberation Sans", sans-serif' font-size="23.00">Raw data</text></g>
<g transform="translate(977.90,113.90) scale(0.975,1)"><text font-family='"Liberation Sans", sans-serif' font-size="23.00">Total Calculation</text></g>
<g transform="translate(977.90,139.00) scale(0.975,1)"><text font-family='"Liberation Sans", sans-serif' font-size="23.00">AC Calculation</text></g>
<g transform="translate(977.90,164.10) scale(0.975,1)"><text font-family='"Liberation Sans", sans-serif' font-size="23.00">OP Calculation</text></g>
<rect x="1611.20" y="5.20" width="204.30" height="161.10" fill="#fff" stroke="#000" stroke-width="1.8"/>
<circle cx="1628.80" cy="23.60" r="7.05" fill="none" stroke="#00cc66" stroke-width="3.6"/>
<rect x="1621.80" y="41.92" width="14.0" height="14.0" fill="none" stroke="#0000ff" stroke-width="3.7"/>
<path d="M1628.80,64.64L1637.20,79.09L1620.40,79.09z" fill="none" stroke="#ff0000" stroke-width="3.3"/>
<path d="M1619.30,99.26H1638.30" stroke="#00cc66" stroke-width="3.8"/>
<path d="M1619.30,124.48H1638.30" stroke="#0000ff" stroke-width="3.8"/>
<path d="M1619.30,149.70H1638.30" stroke="#ff0000" stroke-width="3.8"/>
<g transform="translate(1646.30,30.90) scale(0.975,1)"><text font-family='"Liberation Sans", sans-serif' font-size="23.00">AC Raw</text></g>
<g transform="translate(1646.30,56.12) scale(0.975,1)"><text font-family='"Liberation Sans", sans-serif' font-size="23.00" clip-path="url(#fc4)">OP1 Raw</text></g>
<g transform="translate(1646.30,81.34) scale(0.975,1)"><text font-family='"Liberation Sans", sans-serif' font-size="23.00">OP2 Raw</text></g>
<g transform="translate(1646.30,106.56) scale(0.975,1)"><text font-family='"Liberation Sans", sans-serif' font-size="23.00">AC Calculation</text></g>
<g transform="translate(1646.30,131.78) scale(0.975,1)"><text font-family='"Liberation Sans", sans-serif' font-size="23.00" clip-path="url(#fc5)">OP1 Calculation</text></g>
<g transform="translate(1646.30,157.00) scale(0.975,1)"><text font-family='"Liberation Sans", sans-serif' font-size="23.00">OP2 Calculation</text></g>
<rect x="452.4" y="384.8" width="84.1" height="38.6" fill="#fff" stroke="#000" stroke-width="1.8"/>
<text x="456.50" y="413.00" font-family='"Liberation Sans", sans-serif' font-size="27.00" text-anchor="start" >6 GHz</text>
<rect x="1041.9" y="385.7" width="99.0" height="38.7" fill="#fff" stroke="#000" stroke-width="1.8"/>
<g transform="translate(1047.20,413.70)"><text font-family='"Liberation Sans", sans-serif' font-size="27.00" clip-path="url(#fc6)">12 GHz</text></g>
<defs><clipPath id="fc0" clipPathUnits="userSpaceOnUse"><rect x="-710.0000" y="-106.5000" width="1420.0000" height="102.9500"/><rect x="-710.0000" y="-3.5500" width="681.0949" height="21.3000"/><rect x="-20.7224" y="-3.5500" width="3.1595" height="21.3000"/><rect x="-9.5576" y="-3.5500" width="719.5576" height="21.3000"/></clipPath><clipPath id="fc1" clipPathUnits="userSpaceOnUse"><rect x="-710.0000" y="-106.5000" width="1420.0000" height="102.9500"/><rect x="-710.0000" y="-3.5500" width="681.0949" height="21.3000"/><rect x="-20.7224" y="-3.5500" width="3.1595" height="21.3000"/><rect x="-9.5576" y="-3.5500" width="719.5576" height="21.3000"/></clipPath><clipPath id="fc2" clipPathUnits="userSpaceOnUse"><rect x="-710.0000" y="-106.5000" width="1420.0000" height="102.9500"/><rect x="-710.0000" y="-3.5500" width="671.2232" height="21.3000"/><rect x="-30.5941" y="-3.5500" width="3.1595" height="21.3000"/><rect x="-19.4293" y="-3.5500" width="729.4293" height="21.3000"/></clipPath><clipPath id="fc3" clipPathUnits="userSpaceOnUse"><rect x="-710.0000" y="-106.5000" width="1420.0000" height="102.9500"/><rect x="-710.0000" y="-3.5500" width="671.2232" height="21.3000"/><rect x="-30.5941" y="-3.5500" width="3.1595" height="21.3000"/><rect x="-19.4293" y="-3.5500" width="729.4293" height="21.3000"/></clipPath><clipPath id="fc4" clipPathUnits="userSpaceOnUse"><rect x="-460.0000" y="-69.0000" width="920.0000" height="66.7000"/><rect x="-460.0000" y="-2.3000" width="493.6910" height="13.8000"/><rect x="38.9925" y="-2.3000" width="2.0470" height="13.8000"/><rect x="46.2260" y="-2.3000" width="413.7740" height="13.8000"/></clipPath><clipPath id="fc5" clipPathUnits="userSpaceOnUse"><rect x="-460.0000" y="-69.0000" width="920.0000" height="66.7000"/><rect x="-460.0000" y="-2.3000" width="493.6910" height="13.8000"/><rect x="38.9925" y="-2.3000" width="2.0470" height="13.8000"/><rect x="46.2260" y="-2.3000" width="413.7740" height="13.8000"/></clipPath><clipPath id="fc6" clipPathUnits="userSpaceOnUse"><rect x="-540.0000" y="-81.0000" width="1080.0000" height="78.3000"/><rect x="-540.0000" y="-2.7000" width="540.5400" height="16.2000"/><rect x="6.7635" y="-2.7000" width="2.4030" height="16.2000"/><rect x="15.2550" y="-2.7000" width="524.7450" height="16.2000"/></clipPath></defs>
</svg>
</body></html>
